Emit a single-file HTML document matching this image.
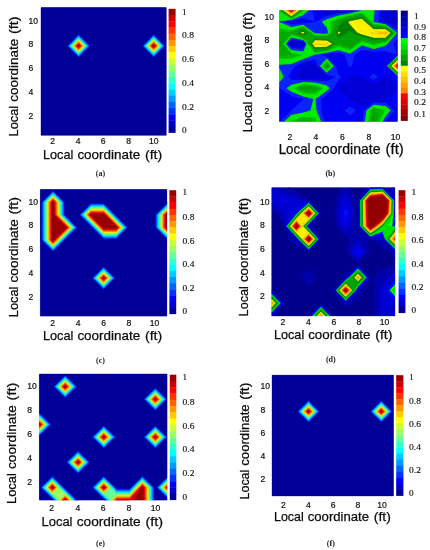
<!DOCTYPE html>
<html><head><meta charset="utf-8"><title>Figure</title>
<style>
html,body{margin:0;padding:0;background:#fff;}
body{width:430px;height:550px;overflow:hidden;position:relative;}
svg{position:absolute;left:0;top:0;display:block;}
.tk{font-family:"Liberation Sans",Arial,sans-serif;font-size:8.6px;fill:#111;stroke:#111;stroke-width:0.2px;}
.cb{font-family:"Liberation Serif","Times New Roman",serif;font-size:9.1px;fill:#111;stroke:#111;stroke-width:0.15px;}
.ax{font-family:"Liberation Sans",Arial,sans-serif;font-size:13px;fill:#0c0c0c;stroke:#0c0c0c;stroke-width:0.25px;}
.cap{font-family:"Liberation Serif","Times New Roman",serif;font-size:8px;font-weight:bold;fill:#222;}
</style></head><body>
<svg width="430" height="550" viewBox="0 0 430 550">
<g>
<rect x="41.0" y="7.6" width="125.2" height="127.6" fill="#000099"/>
<path fill="#000099" stroke="#000099" stroke-width="0.4" d="M41.0 135.2L53.5 135.2L66.0 135.2L78.6 135.2L91.1 135.2L103.6 135.2L116.1 135.2L128.6 135.2L141.2 135.2L153.7 135.2L166.2 135.2L166.2 122.4L166.2 109.7L166.2 96.9L166.2 84.2L166.2 71.4L166.2 58.6L166.2 45.9L166.2 33.1L166.2 20.4L166.2 7.6L153.7 7.6L141.2 7.6L128.6 7.6L116.1 7.6L103.6 7.6L91.1 7.6L78.6 7.6L66.0 7.6L53.5 7.6L41.0 7.6L41.0 20.4L41.0 33.1L41.0 45.9L41.0 58.6L41.0 71.4L41.0 84.2L41.0 96.9L41.0 109.7L41.0 122.4ZM78.6 58.2L66.5 45.9L78.6 33.6L90.6 45.9ZM153.7 58.2L141.6 45.9L153.7 33.6L165.7 45.9Z"/>
<path fill="#000099" stroke="#000099" stroke-width="0.4" d="M66.5 45.9L78.6 58.2L90.6 45.9L78.6 33.6ZM78.6 57.5L67.1 45.9L78.6 34.2L90.0 45.9ZM141.6 45.9L153.7 58.2L165.7 45.9L153.7 33.6ZM153.7 57.5L142.3 45.9L153.7 34.2L165.1 45.9Z"/>
<path fill="#0000c7" stroke="#0000c7" stroke-width="0.4" d="M67.1 45.9L78.6 57.5L90.0 45.9L78.6 34.2ZM78.6 56.9L67.8 45.9L78.6 34.9L89.4 45.9ZM142.3 45.9L153.7 57.5L165.1 45.9L153.7 34.2ZM153.7 56.9L142.9 45.9L153.7 34.9L164.5 45.9Z"/>
<path fill="#0033ff" stroke="#0033ff" stroke-width="0.4" d="M67.8 45.9L78.6 56.9L89.4 45.9L78.6 34.9ZM78.6 56.2L68.4 45.9L78.6 35.5L88.7 45.9ZM142.9 45.9L153.7 56.9L164.5 45.9L153.7 34.9ZM153.7 56.2L143.5 45.9L153.7 35.5L163.8 45.9Z"/>
<path fill="#0066ff" stroke="#0066ff" stroke-width="0.4" d="M68.4 45.9L78.6 56.2L88.7 45.9L78.6 35.5ZM78.6 55.6L69.0 45.9L78.6 36.2L88.1 45.9ZM143.5 45.9L153.7 56.2L163.8 45.9L153.7 35.5ZM153.7 55.6L144.1 45.9L153.7 36.2L163.2 45.9Z"/>
<path fill="#0099ff" stroke="#0099ff" stroke-width="0.4" d="M69.0 45.9L78.6 55.6L88.1 45.9L78.6 36.2ZM78.6 55.0L69.6 45.9L78.6 36.8L87.5 45.9ZM144.1 45.9L153.7 55.6L163.2 45.9L153.7 36.2ZM153.7 55.0L144.8 45.9L153.7 36.8L162.6 45.9Z"/>
<path fill="#00ccff" stroke="#00ccff" stroke-width="0.4" d="M69.6 45.9L78.6 55.0L87.5 45.9L78.6 36.8ZM78.6 54.3L70.3 45.9L78.6 37.4L86.8 45.9ZM144.8 45.9L153.7 55.0L162.6 45.9L153.7 36.8ZM153.7 54.3L145.4 45.9L153.7 37.4L162.0 45.9Z"/>
<path fill="#00ffff" stroke="#00ffff" stroke-width="0.4" d="M70.3 45.9L78.6 54.3L86.8 45.9L78.6 37.4ZM78.6 53.7L70.9 45.9L78.6 38.1L86.2 45.9ZM145.4 45.9L153.7 54.3L162.0 45.9L153.7 37.4ZM153.7 53.7L146.0 45.9L153.7 38.1L161.3 45.9Z"/>
<path fill="#33ffcc" stroke="#33ffcc" stroke-width="0.4" d="M70.9 45.9L78.6 53.7L86.2 45.9L78.6 38.1ZM78.6 53.1L71.5 45.9L78.6 38.7L85.6 45.9ZM146.0 45.9L153.7 53.7L161.3 45.9L153.7 38.1ZM153.7 53.1L146.6 45.9L153.7 38.7L160.7 45.9Z"/>
<path fill="#66ff99" stroke="#66ff99" stroke-width="0.4" d="M71.5 45.9L78.6 53.1L85.6 45.9L78.6 38.7ZM78.6 52.4L72.1 45.9L78.6 39.3L85.0 45.9ZM146.6 45.9L153.7 53.1L160.7 45.9L153.7 38.7ZM153.7 52.4L147.3 45.9L153.7 39.3L160.1 45.9Z"/>
<path fill="#99ff66" stroke="#99ff66" stroke-width="0.4" d="M72.1 45.9L78.6 52.4L85.0 45.9L78.6 39.3ZM78.6 51.8L72.8 45.9L78.6 40.0L84.3 45.9ZM147.3 45.9L153.7 52.4L160.1 45.9L153.7 39.3ZM153.7 51.8L147.9 45.9L153.7 40.0L159.5 45.9Z"/>
<path fill="#ccff33" stroke="#ccff33" stroke-width="0.4" d="M72.8 45.9L78.6 51.8L84.3 45.9L78.6 40.0ZM78.6 51.1L73.4 45.9L78.6 40.6L83.7 45.9ZM147.9 45.9L153.7 51.8L159.5 45.9L153.7 40.0ZM153.7 51.1L148.5 45.9L153.7 40.6L158.8 45.9Z"/>
<path fill="#ffff00" stroke="#ffff00" stroke-width="0.4" d="M73.4 45.9L78.6 51.1L83.7 45.9L78.6 40.6ZM78.6 50.5L74.0 45.9L78.6 41.3L83.1 45.9ZM148.5 45.9L153.7 51.1L158.8 45.9L153.7 40.6ZM153.7 50.5L149.1 45.9L153.7 41.3L158.2 45.9Z"/>
<path fill="#ffcc00" stroke="#ffcc00" stroke-width="0.4" d="M74.0 45.9L78.6 50.5L83.1 45.9L78.6 41.3ZM78.6 49.9L74.7 45.9L78.6 41.9L82.5 45.9ZM149.1 45.9L153.7 50.5L158.2 45.9L153.7 41.3ZM153.7 49.9L149.8 45.9L153.7 41.9L157.6 45.9Z"/>
<path fill="#ff9900" stroke="#ff9900" stroke-width="0.4" d="M74.7 45.9L78.6 49.9L82.5 45.9L78.6 41.9ZM78.6 49.2L75.3 45.9L78.6 42.5L81.8 45.9ZM149.8 45.9L153.7 49.9L157.6 45.9L153.7 41.9ZM153.7 49.2L150.4 45.9L153.7 42.5L157.0 45.9Z"/>
<path fill="#ff6600" stroke="#ff6600" stroke-width="0.4" d="M75.3 45.9L78.6 49.2L81.8 45.9L78.6 42.5ZM78.6 48.6L75.9 45.9L78.6 43.2L81.2 45.9ZM150.4 45.9L153.7 49.2L157.0 45.9L153.7 42.5ZM153.7 48.6L151.0 45.9L153.7 43.2L156.3 45.9Z"/>
<path fill="#ff3300" stroke="#ff3300" stroke-width="0.4" d="M75.9 45.9L78.6 48.6L81.2 45.9L78.6 43.2ZM78.6 47.9L76.5 45.9L78.6 43.8L80.6 45.9ZM151.0 45.9L153.7 48.6L156.3 45.9L153.7 43.2ZM153.7 47.9L151.7 45.9L153.7 43.8L155.7 45.9Z"/>
<path fill="#ff0000" stroke="#ff0000" stroke-width="0.4" d="M76.5 45.9L78.6 47.9L80.6 45.9L78.6 43.8ZM78.6 47.3L77.2 45.9L78.6 44.5L80.0 45.9ZM151.7 45.9L153.7 47.9L155.7 45.9L153.7 43.8ZM153.7 47.3L152.3 45.9L153.7 44.5L155.1 45.9Z"/>
<path fill="#cc0000" stroke="#cc0000" stroke-width="0.4" d="M77.2 45.9L78.6 47.3L80.0 45.9L78.6 44.5ZM78.6 46.7L77.8 45.9L78.6 45.1L79.3 45.9ZM152.3 45.9L153.7 47.3L155.1 45.9L153.7 44.5ZM153.7 46.7L152.9 45.9L153.7 45.1L154.5 45.9Z"/>
<path fill="#990000" stroke="#990000" stroke-width="0.4" d="M77.8 45.9L78.6 46.7L79.3 45.9L78.6 45.1ZM152.9 45.9L153.7 46.7L154.5 45.9L153.7 45.1Z"/>
</g>
<rect x="168.6" y="8.80" width="7.0" height="6.50" fill="#990000"/>
<rect x="168.6" y="15.01" width="7.0" height="6.50" fill="#cc0000"/>
<rect x="168.6" y="21.21" width="7.0" height="6.50" fill="#ff0000"/>
<rect x="168.6" y="27.42" width="7.0" height="6.50" fill="#ff3300"/>
<rect x="168.6" y="33.62" width="7.0" height="6.50" fill="#ff6600"/>
<rect x="168.6" y="39.83" width="7.0" height="6.50" fill="#ff9900"/>
<rect x="168.6" y="46.03" width="7.0" height="6.50" fill="#ffcc00"/>
<rect x="168.6" y="52.23" width="7.0" height="6.50" fill="#ffff00"/>
<rect x="168.6" y="58.44" width="7.0" height="6.50" fill="#ccff33"/>
<rect x="168.6" y="64.64" width="7.0" height="6.50" fill="#99ff66"/>
<rect x="168.6" y="70.85" width="7.0" height="6.50" fill="#66ff99"/>
<rect x="168.6" y="77.05" width="7.0" height="6.50" fill="#33ffcc"/>
<rect x="168.6" y="83.26" width="7.0" height="6.50" fill="#00ffff"/>
<rect x="168.6" y="89.47" width="7.0" height="6.50" fill="#00ccff"/>
<rect x="168.6" y="95.67" width="7.0" height="6.50" fill="#0099ff"/>
<rect x="168.6" y="101.88" width="7.0" height="6.50" fill="#0066ff"/>
<rect x="168.6" y="108.08" width="7.0" height="6.50" fill="#0033ff"/>
<rect x="168.6" y="114.28" width="7.0" height="6.50" fill="#0000ff"/>
<rect x="168.6" y="120.49" width="7.0" height="6.50" fill="#0000cc"/>
<rect x="168.6" y="126.69" width="7.0" height="6.21" fill="#000099"/>
<g>
<rect x="279.5" y="10.6" width="117.9" height="110.8" fill="#8c0000"/>
<path fill="#b20000" stroke="#b20000" stroke-width="0.4" d="M397.4 66.0L397.4 66.0L397.4 66.0L397.4 66.0ZM291.3 10.6L291.3 10.6L291.3 10.6L291.3 10.6Z"/>
<path fill="#cc0000" stroke="#cc0000" stroke-width="0.4" d="M396.6 66.0L397.4 66.8L397.4 66.0L397.4 66.0L397.4 66.0L397.4 65.2ZM290.3 10.6L291.3 11.3L292.3 10.6L291.3 10.6L291.3 10.6L291.3 10.6Z"/>
<path fill="#e60000" stroke="#e60000" stroke-width="0.4" d="M395.8 66.0L397.4 67.5L397.4 66.8L396.6 66.0L397.4 65.2L397.4 64.4ZM289.2 10.6L291.3 12.1L293.4 10.6L292.3 10.6L291.3 11.3L290.3 10.6Z"/>
<path fill="#ff0000" stroke="#ff0000" stroke-width="0.4" d="M395.0 66.0L397.4 68.3L397.4 67.5L395.8 66.0L397.4 64.4L397.4 63.6ZM288.2 10.6L291.3 12.8L294.4 10.6L293.4 10.6L291.3 12.1L289.2 10.6Z"/>
<path fill="#ff8c00" stroke="#ff8c00" stroke-width="0.4" d="M394.2 66.0L397.4 69.0L397.4 68.3L395.0 66.0L397.4 63.6L397.4 62.8ZM385.6 32.8L385.6 32.8L385.6 32.8L385.6 32.8ZM287.2 10.6L291.3 13.6L295.4 10.6L294.4 10.6L291.3 12.8L288.2 10.6Z"/>
<path fill="#ffb200" stroke="#ffb200" stroke-width="0.4" d="M393.4 66.0L397.4 69.8L397.4 69.0L394.2 66.0L397.4 62.8L397.4 62.0ZM377.2 32.8L385.6 34.0L386.9 32.8L385.6 31.8ZM385.6 32.8L385.6 32.8L385.6 32.8L385.6 32.8ZM286.1 10.6L291.3 14.3L296.5 10.6L295.4 10.6L291.3 13.6L287.2 10.6Z"/>
<path fill="#ffd900" stroke="#ffd900" stroke-width="0.4" d="M392.6 66.0L397.4 70.6L397.4 69.8L393.4 66.0L397.4 62.0L397.4 61.3ZM314.2 43.8L314.9 44.7L326.7 44.6L328.0 43.8L326.7 43.0L314.9 43.0ZM369.4 32.8L373.8 33.9L385.6 35.3L388.2 32.8L385.6 30.8L373.8 31.9ZM385.6 34.0L377.2 32.8L385.6 31.8L386.9 32.8ZM362.0 21.7L362.0 21.7L362.0 21.7L362.0 21.7ZM285.1 10.6L291.3 15.0L297.5 10.6L296.5 10.6L291.3 14.3L286.1 10.6Z"/>
<path fill="#fff200" stroke="#fff200" stroke-width="0.4" d="M391.7 66.0L397.4 71.3L397.4 70.6L392.6 66.0L397.4 61.3L397.4 60.5ZM313.1 43.8L314.9 46.2L326.7 45.8L330.3 43.8L326.7 41.7L314.9 41.6ZM314.9 44.7L314.2 43.8L314.9 43.0L326.7 43.0L328.0 43.8L326.7 44.6ZM303.1 32.8L303.1 32.8L303.1 32.8L303.1 32.8ZM362.0 32.8L362.0 32.8L373.8 35.9L385.6 36.6L389.5 32.8L385.6 29.8L373.8 30.4L363.7 21.7L362.0 20.1L353.6 21.7ZM362.0 21.7L362.0 21.7L362.0 21.7L362.0 21.7ZM373.8 33.9L369.4 32.8L373.8 31.9L385.6 30.8L388.2 32.8L385.6 35.3ZM284.1 10.6L291.3 15.8L298.5 10.6L297.5 10.6L291.3 15.0L285.1 10.6Z"/>
<path fill="#ffff00" stroke="#ffff00" stroke-width="0.4" d="M390.9 66.0L397.4 72.1L397.4 71.3L391.7 66.0L397.4 60.5L397.4 59.7ZM311.9 43.8L314.9 47.6L326.7 47.0L332.6 43.8L326.7 40.3L314.9 40.1ZM314.9 46.2L313.1 43.8L314.9 41.6L326.7 41.7L330.3 43.8L326.7 45.8ZM299.8 32.8L303.1 34.0L305.0 32.8L303.1 31.4ZM303.1 32.8L303.1 32.8L303.1 32.8L303.1 32.8ZM337.7 32.8L338.5 34.2L341.1 32.8L338.4 31.1ZM357.1 32.8L362.0 34.7L373.8 37.9L385.6 37.9L390.8 32.8L385.6 28.9L373.8 29.0L365.4 21.7L362.0 18.4L350.2 20.8L347.7 21.7L350.2 25.0ZM362.0 32.8L362.0 32.8L353.6 21.7L362.0 20.1L363.7 21.7L373.8 30.4L385.6 29.8L389.5 32.8L385.6 36.6L373.8 35.9ZM283.0 10.6L291.3 16.5L299.6 10.6L298.5 10.6L291.3 15.8L284.1 10.6Z"/>
<path fill="#008000" stroke="#008000" stroke-width="0.4" d="M390.1 66.0L397.4 72.8L397.4 72.1L390.9 66.0L397.4 59.7L397.4 58.9ZM310.8 43.8L314.9 49.1L326.7 48.2L334.8 43.8L326.7 39.0L314.9 38.7ZM314.9 47.6L311.9 43.8L314.9 40.1L326.7 40.3L332.6 43.8L326.7 47.0ZM350.2 43.8L350.2 43.8L350.2 43.8L350.2 43.8ZM296.5 32.8L303.1 35.3L306.9 32.8L303.1 30.0ZM303.1 34.0L299.8 32.8L303.1 31.4L305.0 32.8ZM335.7 32.8L338.4 37.9L347.6 32.8L350.2 30.5L352.2 32.8L362.0 36.7L373.8 39.9L385.6 39.2L392.2 32.8L385.6 27.9L373.8 27.5L367.1 21.7L362.0 16.8L350.2 19.2L343.5 21.7L338.5 26.8ZM338.5 34.2L337.7 32.8L338.4 31.1L341.1 32.8ZM362.0 34.7L357.1 32.8L350.2 25.0L347.7 21.7L350.2 20.8L362.0 18.4L365.4 21.7L373.8 29.0L385.6 28.9L390.8 32.8L385.6 37.9L373.8 37.9ZM282.0 10.6L291.3 17.2L300.6 10.6L299.6 10.6L291.3 16.5L283.0 10.6Z"/>
<path fill="#00a100" stroke="#00a100" stroke-width="0.4" d="M303.1 121.4L303.1 121.4L303.1 121.4L303.1 121.4ZM372.3 121.4L373.8 121.4L375.4 121.4L373.8 113.1ZM300.6 88.2L303.1 89.6L314.9 88.2L314.9 88.2L314.9 88.2L303.1 87.1ZM325.5 66.0L326.7 67.2L327.9 66.0L326.7 64.7ZM389.3 66.0L397.4 73.6L397.4 72.8L390.1 66.0L397.4 58.9L397.4 58.1ZM279.5 43.8L279.5 49.4L280.6 43.8L279.5 38.3ZM309.7 43.8L314.9 50.5L326.7 49.4L337.1 43.8L338.5 41.6L342.9 43.8L350.2 46.4L353.5 43.8L362.0 38.7L373.8 41.9L385.6 40.5L393.5 32.8L385.6 26.9L373.8 26.1L368.8 21.7L362.0 15.2L350.2 17.7L339.3 21.7L338.4 22.5L333.7 32.8L326.7 37.6L314.9 37.3ZM314.9 49.1L310.8 43.8L314.9 38.7L326.7 39.0L334.8 43.8L326.7 48.2ZM338.4 37.9L335.7 32.8L338.4 26.8L343.5 21.7L350.2 19.2L362.0 16.8L367.1 21.7L373.8 27.5L385.6 27.9L392.2 32.8L385.6 39.2L373.8 39.9L362.0 36.7L352.2 32.8L350.2 30.5L347.6 32.8ZM350.2 43.8L350.2 43.8L350.2 43.8L350.2 43.8ZM293.3 32.8L303.1 36.5L308.8 32.8L303.1 28.6ZM303.1 35.3L296.5 32.8L303.1 30.0L306.9 32.8ZM280.9 10.6L291.3 18.0L301.6 10.6L300.6 10.6L291.3 17.2L282.0 10.6Z"/>
<path fill="#00ab00" stroke="#00ab00" stroke-width="0.4" d="M297.2 121.4L303.1 121.4L303.1 121.4L303.1 121.4L311.3 121.4L303.1 119.2ZM370.5 121.4L372.3 121.4L373.8 113.1L375.4 121.4L377.2 121.4L378.0 110.3L373.8 109.3L372.5 110.3ZM297.6 88.2L303.1 91.3L314.9 90.9L318.6 88.2L314.9 86.8L303.1 85.8ZM303.1 89.6L300.6 88.2L303.1 87.1L314.9 88.2L314.9 88.2L314.9 88.2ZM324.1 66.0L326.7 68.6L329.4 66.0L326.7 63.2ZM326.7 67.2L325.5 66.0L326.7 64.7L327.9 66.0ZM388.8 66.0L397.4 74.1L397.4 73.6L389.3 66.0L397.4 58.1L397.4 57.5ZM279.5 54.9L279.5 55.3L291.3 55.3L292.5 54.9L291.3 54.7L281.9 43.8L291.3 33.0L303.1 37.4L308.9 43.8L314.9 51.6L326.7 50.2L338.4 44.1L350.2 48.1L355.8 43.8L362.0 40.1L373.8 43.2L385.6 41.4L394.4 32.8L385.6 26.2L373.8 25.0L369.9 21.7L362.0 14.0L350.2 16.6L338.4 20.5L335.5 21.7L332.4 32.8L326.7 36.7L314.9 36.3L310.1 32.8L303.1 27.6L291.3 32.5L279.5 32.3L279.5 32.8L279.5 38.3L280.6 43.8L279.5 49.4ZM303.1 36.5L293.3 32.8L303.1 28.6L308.8 32.8ZM314.9 50.5L309.7 43.8L314.9 37.3L326.7 37.6L333.7 32.8L338.4 22.5L339.3 21.7L350.2 17.7L362.0 15.2L368.8 21.7L373.8 26.1L385.6 26.9L393.5 32.8L385.6 40.5L373.8 41.9L362.0 38.7L353.5 43.8L350.2 46.4L342.9 43.8L338.5 41.6L337.1 43.8L326.7 49.4ZM280.2 10.6L291.3 18.5L302.4 10.6L301.6 10.6L291.3 18.0L280.9 10.6Z"/>
<path fill="#00b800" stroke="#00b800" stroke-width="0.4" d="M290.8 121.4L291.3 121.4L297.2 121.4L303.1 119.2L311.3 121.4L314.9 121.4L316.5 121.4L314.9 117.9L303.1 116.8L291.3 121.0ZM368.4 121.4L370.5 121.4L372.5 110.3L373.8 109.3L378.0 110.3L377.2 121.4L379.2 121.4L384.8 110.3L373.8 107.6L370.3 110.3ZM294.2 88.2L303.1 93.2L314.9 94.1L322.9 88.2L314.9 85.2L303.1 84.4ZM303.1 91.3L297.6 88.2L303.1 85.8L314.9 86.8L318.6 88.2L314.9 90.9ZM322.5 66.0L326.7 70.2L331.1 66.0L326.7 61.5ZM326.7 68.6L324.1 66.0L326.7 63.2L329.4 66.0ZM388.1 66.0L397.4 74.7L397.4 74.1L388.8 66.0L397.4 57.5L397.4 56.9ZM279.5 55.3L279.5 58.8L291.3 58.5L301.9 54.9L291.3 53.0L283.4 43.8L291.3 34.7L303.1 38.4L308.0 43.8L314.9 52.7L326.7 51.2L338.4 46.3L350.2 50.1L358.4 43.8L362.0 41.7L370.1 43.8L373.8 45.2L377.5 43.8L385.6 42.4L395.4 32.8L385.6 25.5L373.8 23.9L371.3 21.7L362.0 12.7L350.2 15.4L338.4 18.7L330.8 21.7L330.8 32.8L326.7 35.6L314.9 35.2L311.6 32.8L303.1 26.5L291.3 30.5L279.5 28.6L279.5 32.3L291.3 32.5L303.1 27.6L310.1 32.8L314.9 36.3L326.7 36.7L332.4 32.8L335.5 21.7L338.4 20.5L350.2 16.6L362.0 14.0L369.9 21.7L373.8 25.0L385.6 26.2L394.4 32.8L385.6 41.4L373.8 43.2L362.0 40.1L355.8 43.8L350.2 48.1L338.4 44.1L326.7 50.2L314.9 51.6L308.9 43.8L303.1 37.4L291.3 33.0L281.9 43.8L291.3 54.7L292.5 54.9L291.3 55.3ZM279.5 10.6L279.5 11.3L291.3 19.1L303.1 10.9L303.4 10.6L303.1 10.6L302.4 10.6L291.3 18.5L280.2 10.6Z"/>
<path fill="#00eb00" stroke="#00eb00" stroke-width="0.4" d="M284.0 121.4L290.8 121.4L291.3 121.0L303.1 116.8L314.9 117.9L316.5 121.4L321.4 121.4L316.8 110.3L315.9 99.2L326.7 91.3L330.0 88.2L326.7 85.0L314.9 82.2L303.1 81.7L291.3 84.5L286.1 88.2L291.3 91.9L303.1 96.8L312.9 99.2L310.2 110.3L303.1 112.2L291.3 114.6ZM303.1 93.2L294.2 88.2L303.1 84.4L314.9 85.2L322.9 88.2L314.9 94.1ZM364.6 121.4L368.4 121.4L370.3 110.3L373.8 107.6L384.8 110.3L379.2 121.4L383.0 121.4L385.6 116.8L391.1 110.3L385.6 105.8L373.8 104.4L366.3 110.3ZM279.5 77.1L279.5 82.6L284.0 77.1L279.5 67.8ZM319.6 66.0L326.7 73.1L334.2 66.0L326.7 58.3ZM326.7 70.2L322.5 66.0L326.7 61.5L331.1 66.0ZM386.9 66.0L397.4 75.9L397.4 74.7L388.1 66.0L397.4 56.9L397.4 55.7ZM279.5 58.8L279.5 65.1L291.3 64.4L303.1 59.5L314.9 54.9L314.9 54.9L326.7 53.0L338.4 50.5L350.2 53.9L362.0 45.7L373.8 49.4L385.6 46.1L388.0 43.8L397.4 32.8L397.4 32.8L397.4 32.8L385.6 24.0L373.8 21.7L374.9 10.6L373.8 10.6L362.0 10.6L360.7 10.6L350.2 13.1L338.4 15.2L326.7 19.1L321.4 21.7L326.7 28.0L327.8 32.8L326.7 33.6L314.9 33.0L314.5 32.8L303.1 24.4L291.3 26.7L279.5 21.7L291.3 20.2L303.1 15.5L309.0 10.6L303.4 10.6L303.1 10.9L291.3 19.1L279.5 11.3L279.5 21.7L279.5 28.6L291.3 30.5L303.1 26.5L311.6 32.8L314.9 35.2L326.7 35.6L330.8 32.8L330.8 21.7L338.4 18.7L350.2 15.4L362.0 12.7L371.3 21.7L373.8 23.9L385.6 25.5L395.4 32.8L385.6 42.4L377.5 43.8L373.8 45.2L370.1 43.8L362.0 41.7L358.4 43.8L350.2 50.1L338.4 46.3L326.7 51.2L314.9 52.7L308.0 43.8L303.1 38.4L291.3 34.7L283.4 43.8L291.3 53.0L301.9 54.9L291.3 58.5ZM291.3 49.8L286.1 43.8L291.3 37.9L303.1 40.3L306.3 43.8L303.1 51.2Z"/>
<path fill="#0a24ff" stroke="#0a24ff" stroke-width="0.4" d="M279.5 121.4L284.0 121.4L291.3 114.6L303.1 112.2L310.2 110.3L312.9 99.2L303.1 96.8L291.3 91.9L286.1 88.2L291.3 84.5L303.1 81.7L314.9 82.2L326.7 85.0L330.0 88.2L326.7 91.3L315.9 99.2L316.8 110.3L321.4 121.4L324.7 121.4L321.7 110.3L321.3 99.2L326.7 95.3L334.2 88.2L338.4 80.2L341.8 77.1L338.4 73.9L336.3 66.0L326.7 56.2L322.2 54.9L326.7 54.2L338.4 53.3L344.3 54.9L348.3 66.0L350.2 67.8L352.2 66.0L354.7 54.9L362.0 50.3L373.8 52.1L385.6 51.6L397.4 54.9L386.1 66.0L397.4 76.6L397.4 75.9L386.9 66.0L397.4 55.7L397.4 54.9L397.4 54.9L393.9 43.8L397.4 39.7L397.4 32.8L388.0 43.8L385.6 46.1L373.8 49.4L362.0 45.7L350.2 53.9L338.4 50.5L326.7 53.0L314.9 54.9L314.9 54.9L303.1 59.5L291.3 64.4L279.5 65.1L279.5 66.0L279.5 67.8L284.0 77.1L279.5 82.6L279.5 88.2L279.5 88.2L291.3 96.5L303.1 99.2L291.3 110.3L291.3 110.3L279.5 121.4ZM291.3 79.8L288.6 77.1L291.3 71.5L295.7 66.0L303.1 62.7L314.9 59.5L317.6 66.0L326.7 75.1L335.1 77.1L326.7 81.0L314.9 80.2L303.1 79.9ZM326.7 73.1L319.6 66.0L326.7 58.3L334.2 66.0ZM344.3 110.3L350.2 115.9L356.1 110.3L350.2 106.2ZM362.0 121.4L362.0 121.4L364.6 121.4L366.3 110.3L373.8 104.4L385.6 105.8L391.1 110.3L385.6 116.8L383.0 121.4L385.6 121.4L385.6 121.4L395.0 110.3L385.6 102.5L373.8 102.2L363.6 110.3L362.0 121.4ZM369.4 77.1L373.8 80.1L378.2 77.1L373.8 72.9ZM286.1 43.8L291.3 49.8L303.1 51.2L306.3 43.8L303.1 40.3L291.3 37.9ZM291.3 47.7L288.0 43.8L291.3 40.0L303.1 41.6L305.1 43.8L303.1 48.6ZM314.5 32.8L314.9 33.0L326.7 33.6L327.8 32.8L326.7 28.0L321.4 21.7L326.7 19.1L338.4 15.2L350.2 13.1L360.7 10.6L354.2 10.6L350.2 11.5L338.4 12.9L326.7 15.8L314.9 21.7L312.7 10.6L309.0 10.6L303.1 15.5L291.3 20.2L279.5 21.7L291.3 26.7L303.1 24.4ZM291.3 24.2L285.4 21.7L291.3 20.9L303.1 18.6L314.9 21.7L303.1 23.1ZM373.8 21.7L385.6 24.0L397.4 32.8L397.4 29.1L385.6 23.0L378.7 21.7L380.3 10.6L374.9 10.6Z"/>
<path fill="#0000f2" stroke="#0000f2" stroke-width="0.4" d="M279.5 110.3L279.5 121.4L291.3 110.3L291.3 110.3L303.1 99.2L291.3 96.5L279.5 88.2L279.5 99.2ZM324.7 121.4L326.7 121.4L338.4 121.4L350.2 121.4L362.0 121.4L362.0 121.4L363.6 110.3L373.8 102.2L385.6 102.5L395.0 110.3L385.6 121.4L397.4 121.4L397.4 110.3L397.4 99.2L397.4 88.2L397.4 77.1L397.4 76.6L386.1 66.0L397.4 54.9L385.6 51.6L373.8 52.1L362.0 50.3L354.7 54.9L352.2 66.0L350.2 67.8L348.3 66.0L344.3 54.9L338.4 53.3L326.7 54.2L322.2 54.9L326.7 56.2L336.3 66.0L338.4 73.9L341.8 77.1L338.4 80.2L334.2 88.2L326.7 95.3L321.3 99.2L321.7 110.3ZM350.2 115.9L344.3 110.3L350.2 106.2L356.1 110.3ZM362.0 105.9L350.2 99.2L350.2 99.2L338.5 88.2L350.2 77.1L362.0 77.1L373.8 85.1L385.6 77.1L397.4 88.2L385.6 99.2L385.6 99.2L373.8 100.1ZM373.8 80.1L369.4 77.1L373.8 72.9L378.2 77.1ZM288.6 77.1L291.3 79.8L303.1 79.9L314.9 80.2L326.7 81.0L335.1 77.1L326.7 75.1L317.6 66.0L314.9 59.5L303.1 62.7L295.7 66.0L291.3 71.5ZM303.1 78.2L296.0 77.1L303.1 66.0L303.1 66.0L314.9 64.2L315.7 66.0L326.7 77.1L314.9 78.3ZM288.0 43.8L291.3 47.7L303.1 48.6L305.1 43.8L303.1 41.6L291.3 40.0ZM291.3 45.5L289.8 43.8L291.3 42.1L303.1 42.8L304.0 43.8L303.1 46.0ZM393.9 43.8L397.4 54.9L397.4 43.8L397.4 39.7ZM285.4 21.7L291.3 24.2L303.1 23.1L314.9 21.7L303.1 18.6L291.3 20.9ZM378.7 21.7L385.6 23.0L397.4 29.1L397.4 25.4L385.6 22.1L383.6 21.7L385.6 10.6L385.6 10.6L385.6 10.6L380.3 10.6ZM312.7 10.6L314.9 21.7L326.7 15.8L338.4 12.9L350.2 11.5L354.2 10.6L350.2 10.6L338.4 10.6L338.4 10.6L326.7 12.6L319.6 10.6L314.9 10.6Z"/>
<path fill="#0000d6" stroke="#0000d6" stroke-width="0.4" d="M350.2 99.2L362.0 105.9L373.8 100.1L385.6 99.2L385.6 99.2L397.4 88.2L385.6 77.1L373.8 85.1L362.0 77.1L350.2 77.1L338.5 88.2L350.2 99.2ZM296.0 77.1L303.1 78.2L314.9 78.3L326.7 77.1L315.7 66.0L314.9 64.2L303.1 66.0L303.1 66.0ZM289.8 43.8L291.3 45.5L303.1 46.0L304.0 43.8L303.1 42.8L291.3 42.1ZM383.6 21.7L385.6 22.1L397.4 25.4L397.4 21.7L397.4 21.7L395.4 10.6L385.6 10.6L385.6 10.6ZM319.6 10.6L326.7 12.6L338.4 10.6L326.7 10.6Z"/>
<path fill="#0000bd" stroke="#0000bd" stroke-width="0.4" d="M395.4 10.6L397.4 21.7L397.4 10.6Z"/>
</g>
<rect x="400.8" y="10.60" width="7.0" height="5.82" fill="#00008c"/>
<rect x="400.8" y="16.12" width="7.0" height="5.82" fill="#0000a8"/>
<rect x="400.8" y="21.63" width="7.0" height="5.82" fill="#0000c7"/>
<rect x="400.8" y="27.15" width="7.0" height="5.82" fill="#0000e6"/>
<rect x="400.8" y="32.66" width="7.0" height="5.82" fill="#0000ff"/>
<rect x="400.8" y="38.18" width="7.0" height="5.82" fill="#00ff00"/>
<rect x="400.8" y="43.69" width="7.0" height="5.82" fill="#00e000"/>
<rect x="400.8" y="49.21" width="7.0" height="5.82" fill="#00c200"/>
<rect x="400.8" y="54.72" width="7.0" height="5.82" fill="#00a300"/>
<rect x="400.8" y="60.24" width="7.0" height="5.82" fill="#008500"/>
<rect x="400.8" y="65.75" width="7.0" height="5.82" fill="#ffff00"/>
<rect x="400.8" y="71.27" width="7.0" height="5.82" fill="#ffe000"/>
<rect x="400.8" y="76.78" width="7.0" height="5.82" fill="#ffc200"/>
<rect x="400.8" y="82.30" width="7.0" height="5.82" fill="#ffa300"/>
<rect x="400.8" y="87.81" width="7.0" height="5.82" fill="#ff8500"/>
<rect x="400.8" y="93.33" width="7.0" height="5.82" fill="#ff0000"/>
<rect x="400.8" y="98.84" width="7.0" height="5.82" fill="#e00000"/>
<rect x="400.8" y="104.36" width="7.0" height="5.82" fill="#c20000"/>
<rect x="400.8" y="109.87" width="7.0" height="5.82" fill="#a30000"/>
<rect x="400.8" y="115.39" width="7.0" height="5.52" fill="#850000"/>
<g>
<rect x="40.4" y="189.5" width="126.4" height="126.6" fill="#000099"/>
<path fill="#000099" stroke="#000099" stroke-width="0.4" d="M40.4 316.1L53.0 316.1L65.7 316.1L78.3 316.1L91.0 316.1L103.6 316.1L116.2 316.1L128.9 316.1L141.5 316.1L154.2 316.1L166.8 316.1L166.8 303.4L166.8 290.8L166.8 278.1L166.8 265.5L166.8 252.8L166.8 240.1L166.8 239.7L154.6 227.5L154.6 214.8L166.8 202.6L166.8 202.2L166.8 189.5L154.2 189.5L141.5 189.5L128.9 189.5L116.2 189.5L103.6 189.5L91.0 189.5L78.3 189.5L65.7 189.5L53.0 189.5L40.4 189.5L40.4 202.2L40.4 214.8L40.4 227.5L40.4 240.1L40.4 252.8L40.4 265.5L40.4 278.1L40.4 290.8L40.4 303.4ZM53.0 252.3L40.9 240.1L40.9 227.5L40.9 214.8L40.9 202.2L53.0 190.0L65.2 202.2L65.2 214.8L65.7 215.3L77.8 227.5L65.7 239.7L65.2 240.1ZM103.6 290.3L91.4 278.1L103.6 265.9L115.8 278.1ZM103.6 239.7L91.4 227.5L91.0 227.0L78.8 214.8L91.0 202.6L103.6 202.6L115.8 214.8L116.2 215.3L128.4 227.5L116.2 239.7Z"/>
<path fill="#000099" stroke="#000099" stroke-width="0.4" d="M91.4 278.1L103.6 290.3L115.8 278.1L103.6 265.9ZM103.6 289.7L92.1 278.1L103.6 266.6L115.1 278.1ZM40.9 240.1L53.0 252.3L65.2 240.1L65.7 239.7L77.8 227.5L65.7 215.3L65.2 214.8L65.2 202.2L53.0 190.0L40.9 202.2L40.9 214.8L40.9 227.5ZM53.0 251.7L41.5 240.1L41.5 227.5L41.5 214.8L41.5 202.2L53.0 190.6L64.6 202.2L64.6 214.8L65.7 215.9L77.2 227.5L65.7 239.0L64.6 240.1ZM91.4 227.5L103.6 239.7L116.2 239.7L128.4 227.5L116.2 215.3L115.8 214.8L103.6 202.6L91.0 202.6L78.8 214.8L91.0 227.0ZM103.6 239.0L92.1 227.5L91.0 226.4L79.4 214.8L91.0 203.3L103.6 203.3L115.1 214.8L116.2 215.9L127.8 227.5L116.2 239.0ZM154.6 227.5L166.8 239.7L166.8 239.0L155.3 227.5L155.3 214.8L166.8 203.3L166.8 202.6L154.6 214.8Z"/>
<path fill="#0000c7" stroke="#0000c7" stroke-width="0.4" d="M92.1 278.1L103.6 289.7L115.1 278.1L103.6 266.6ZM103.6 289.0L92.7 278.1L103.6 267.2L114.5 278.1ZM41.5 240.1L53.0 251.7L64.6 240.1L65.7 239.0L77.2 227.5L65.7 215.9L64.6 214.8L64.6 202.2L53.0 190.6L41.5 202.2L41.5 214.8L41.5 227.5ZM53.0 251.1L42.1 240.1L42.1 227.5L42.1 214.8L42.1 202.2L53.0 191.2L63.9 202.2L63.9 214.8L65.7 216.6L76.6 227.5L65.7 238.4L63.9 240.1ZM92.1 227.5L103.6 239.0L116.2 239.0L127.8 227.5L116.2 215.9L115.1 214.8L103.6 203.3L91.0 203.3L79.4 214.8L91.0 226.4ZM103.6 238.4L92.7 227.5L91.0 225.7L80.1 214.8L91.0 203.9L103.6 203.9L114.5 214.8L116.2 216.6L127.1 227.5L116.2 238.4ZM155.3 227.5L166.8 239.0L166.8 238.4L155.9 227.5L155.9 214.8L166.8 203.9L166.8 203.3L155.3 214.8Z"/>
<path fill="#0033ff" stroke="#0033ff" stroke-width="0.4" d="M92.7 278.1L103.6 289.0L114.5 278.1L103.6 267.2ZM103.6 288.4L93.3 278.1L103.6 267.8L113.9 278.1ZM42.1 240.1L53.0 251.1L63.9 240.1L65.7 238.4L76.6 227.5L65.7 216.6L63.9 214.8L63.9 202.2L53.0 191.2L42.1 202.2L42.1 214.8L42.1 227.5ZM53.0 250.4L42.8 240.1L42.8 227.5L42.8 214.8L42.8 202.2L53.0 191.9L63.3 202.2L63.3 214.8L65.7 217.2L75.9 227.5L65.7 237.8L63.3 240.1ZM92.7 227.5L103.6 238.4L116.2 238.4L127.1 227.5L116.2 216.6L114.5 214.8L103.6 203.9L91.0 203.9L80.1 214.8L91.0 225.7ZM103.6 237.8L93.3 227.5L91.0 225.1L80.7 214.8L91.0 204.5L103.6 204.5L113.9 214.8L116.2 217.2L126.5 227.5L116.2 237.8ZM155.9 227.5L166.8 238.4L166.8 237.8L156.5 227.5L156.5 214.8L166.8 204.5L166.8 203.9L155.9 214.8Z"/>
<path fill="#0066ff" stroke="#0066ff" stroke-width="0.4" d="M93.3 278.1L103.6 288.4L113.9 278.1L103.6 267.8ZM103.6 287.8L94.0 278.1L103.6 268.5L113.2 278.1ZM42.8 240.1L53.0 250.4L63.3 240.1L65.7 237.8L75.9 227.5L65.7 217.2L63.3 214.8L63.3 202.2L53.0 191.9L42.8 202.2L42.8 214.8L42.8 227.5ZM53.0 249.8L43.4 240.1L43.4 227.5L43.4 214.8L43.4 202.2L53.0 192.5L62.7 202.2L62.7 214.8L65.7 217.8L75.3 227.5L65.7 237.1L62.7 240.1ZM93.3 227.5L103.6 237.8L116.2 237.8L126.5 227.5L116.2 217.2L113.9 214.8L103.6 204.5L91.0 204.5L80.7 214.8L91.0 225.1ZM103.6 237.1L94.0 227.5L91.0 224.5L81.3 214.8L91.0 205.2L103.6 205.2L113.2 214.8L116.2 217.8L125.9 227.5L116.2 237.1ZM156.5 227.5L166.8 237.8L166.8 237.1L157.2 227.5L157.2 214.8L166.8 205.2L166.8 204.5L156.5 214.8Z"/>
<path fill="#0099ff" stroke="#0099ff" stroke-width="0.4" d="M94.0 278.1L103.6 287.8L113.2 278.1L103.6 268.5ZM103.6 287.1L94.6 278.1L103.6 269.1L112.6 278.1ZM43.4 240.1L53.0 249.8L62.7 240.1L65.7 237.1L75.3 227.5L65.7 217.8L62.7 214.8L62.7 202.2L53.0 192.5L43.4 202.2L43.4 214.8L43.4 227.5ZM53.0 249.2L44.0 240.1L44.0 227.5L44.0 214.8L44.0 202.2L53.0 193.1L62.0 202.2L62.0 214.8L65.7 218.5L74.7 227.5L65.7 236.5L62.0 240.1ZM94.0 227.5L103.6 237.1L116.2 237.1L125.9 227.5L116.2 217.8L113.2 214.8L103.6 205.2L91.0 205.2L81.3 214.8L91.0 224.5ZM103.6 236.5L94.6 227.5L91.0 223.8L82.0 214.8L91.0 205.8L103.6 205.8L112.6 214.8L116.2 218.5L125.2 227.5L116.2 236.5ZM157.2 227.5L166.8 237.1L166.8 236.5L157.8 227.5L157.8 214.8L166.8 205.8L166.8 205.2L157.2 214.8Z"/>
<path fill="#00ccff" stroke="#00ccff" stroke-width="0.4" d="M94.6 278.1L103.6 287.1L112.6 278.1L103.6 269.1ZM103.6 286.5L95.2 278.1L103.6 269.7L112.0 278.1ZM44.0 240.1L53.0 249.2L62.0 240.1L65.7 236.5L74.7 227.5L65.7 218.5L62.0 214.8L62.0 202.2L53.0 193.1L44.0 202.2L44.0 214.8L44.0 227.5ZM53.0 248.5L44.7 240.1L44.7 227.5L44.7 214.8L44.7 202.2L53.0 193.8L61.4 202.2L61.4 214.8L65.7 219.1L74.0 227.5L65.7 235.9L61.4 240.1ZM94.6 227.5L103.6 236.5L116.2 236.5L125.2 227.5L116.2 218.5L112.6 214.8L103.6 205.8L91.0 205.8L82.0 214.8L91.0 223.8ZM103.6 235.9L95.2 227.5L91.0 223.2L82.6 214.8L91.0 206.4L103.6 206.4L112.0 214.8L116.2 219.1L124.6 227.5L116.2 235.9ZM157.8 227.5L166.8 236.5L166.8 235.9L158.4 227.5L158.4 214.8L166.8 206.4L166.8 205.8L157.8 214.8Z"/>
<path fill="#00ffff" stroke="#00ffff" stroke-width="0.4" d="M95.2 278.1L103.6 286.5L112.0 278.1L103.6 269.7ZM103.6 285.9L95.9 278.1L103.6 270.4L111.3 278.1ZM44.7 240.1L53.0 248.5L61.4 240.1L65.7 235.9L74.0 227.5L65.7 219.1L61.4 214.8L61.4 202.2L53.0 193.8L44.7 202.2L44.7 214.8L44.7 227.5ZM53.0 247.9L45.3 240.1L45.3 227.5L45.3 214.8L45.3 202.2L53.0 194.4L60.8 202.2L60.8 214.8L65.7 219.7L73.4 227.5L65.7 235.2L60.8 240.1ZM95.2 227.5L103.6 235.9L116.2 235.9L124.6 227.5L116.2 219.1L112.0 214.8L103.6 206.4L91.0 206.4L82.6 214.8L91.0 223.2ZM103.6 235.2L95.9 227.5L91.0 222.6L83.2 214.8L91.0 207.1L103.6 207.1L111.3 214.8L116.2 219.7L124.0 227.5L116.2 235.2ZM158.4 227.5L166.8 235.9L166.8 235.2L159.1 227.5L159.1 214.8L166.8 207.1L166.8 206.4L158.4 214.8Z"/>
<path fill="#33ffcc" stroke="#33ffcc" stroke-width="0.4" d="M95.9 278.1L103.6 285.9L111.3 278.1L103.6 270.4ZM103.6 285.2L96.5 278.1L103.6 271.0L110.7 278.1ZM45.3 240.1L53.0 247.9L60.8 240.1L65.7 235.2L73.4 227.5L65.7 219.7L60.8 214.8L60.8 202.2L53.0 194.4L45.3 202.2L45.3 214.8L45.3 227.5ZM53.0 247.3L45.9 240.1L45.9 227.5L45.9 214.8L45.9 202.2L53.0 195.0L60.1 202.2L60.1 214.8L65.7 220.4L72.8 227.5L65.7 234.6L60.1 240.1ZM95.9 227.5L103.6 235.2L116.2 235.2L124.0 227.5L116.2 219.7L111.3 214.8L103.6 207.1L91.0 207.1L83.2 214.8L91.0 222.6ZM103.6 234.6L96.5 227.5L91.0 221.9L83.9 214.8L91.0 207.7L103.6 207.7L110.7 214.8L116.2 220.4L123.3 227.5L116.2 234.6ZM159.1 227.5L166.8 235.2L166.8 234.6L159.7 227.5L159.7 214.8L166.8 207.7L166.8 207.1L159.1 214.8Z"/>
<path fill="#66ff99" stroke="#66ff99" stroke-width="0.4" d="M96.5 278.1L103.6 285.2L110.7 278.1L103.6 271.0ZM103.6 284.6L97.1 278.1L103.6 271.6L110.1 278.1ZM45.9 240.1L53.0 247.3L60.1 240.1L65.7 234.6L72.8 227.5L65.7 220.4L60.1 214.8L60.1 202.2L53.0 195.0L45.9 202.2L45.9 214.8L45.9 227.5ZM53.0 246.6L46.6 240.1L46.6 227.5L46.6 214.8L46.6 202.2L53.0 195.7L59.5 202.2L59.5 214.8L65.7 221.0L72.2 227.5L65.7 234.0L59.5 240.1ZM96.5 227.5L103.6 234.6L116.2 234.6L123.3 227.5L116.2 220.4L110.7 214.8L103.6 207.7L91.0 207.7L83.9 214.8L91.0 221.9ZM103.6 234.0L97.1 227.5L91.0 221.3L84.5 214.8L91.0 208.3L103.6 208.3L110.1 214.8L116.2 221.0L122.7 227.5L116.2 234.0ZM159.7 227.5L166.8 234.6L166.8 234.0L160.3 227.5L160.3 214.8L166.8 208.3L166.8 207.7L159.7 214.8Z"/>
<path fill="#99ff66" stroke="#99ff66" stroke-width="0.4" d="M97.1 278.1L103.6 284.6L110.1 278.1L103.6 271.6ZM103.6 284.0L97.8 278.1L103.6 272.3L109.4 278.1ZM46.6 240.1L53.0 246.6L59.5 240.1L65.7 234.0L72.2 227.5L65.7 221.0L59.5 214.8L59.5 202.2L53.0 195.7L46.6 202.2L46.6 214.8L46.6 227.5ZM53.0 246.0L47.2 240.1L47.2 227.5L47.2 214.8L47.2 202.2L53.0 196.3L58.9 202.2L58.9 214.8L65.7 221.6L71.5 227.5L65.7 233.3L58.9 240.1ZM97.1 227.5L103.6 234.0L116.2 234.0L122.7 227.5L116.2 221.0L110.1 214.8L103.6 208.3L91.0 208.3L84.5 214.8L91.0 221.3ZM103.6 233.3L97.8 227.5L91.0 220.7L85.1 214.8L91.0 209.0L103.6 209.0L109.4 214.8L116.2 221.6L122.1 227.5L116.2 233.3ZM160.3 227.5L166.8 234.0L166.8 233.3L161.0 227.5L161.0 214.8L166.8 209.0L166.8 208.3L160.3 214.8Z"/>
<path fill="#ccff33" stroke="#ccff33" stroke-width="0.4" d="M97.8 278.1L103.6 284.0L109.4 278.1L103.6 272.3ZM103.6 283.3L98.4 278.1L103.6 272.9L108.8 278.1ZM47.2 240.1L53.0 246.0L58.9 240.1L65.7 233.3L71.5 227.5L65.7 221.6L58.9 214.8L58.9 202.2L53.0 196.3L47.2 202.2L47.2 214.8L47.2 227.5ZM53.0 245.4L47.8 240.1L47.8 227.5L47.8 214.8L47.8 202.2L53.0 196.9L58.2 202.2L58.2 214.8L65.7 222.3L70.9 227.5L65.7 232.7L58.2 240.1ZM97.8 227.5L103.6 233.3L116.2 233.3L122.1 227.5L116.2 221.6L109.4 214.8L103.6 209.0L91.0 209.0L85.1 214.8L91.0 220.7ZM103.6 232.7L98.4 227.5L91.0 220.0L85.8 214.8L91.0 209.6L103.6 209.6L108.8 214.8L116.2 222.3L121.4 227.5L116.2 232.7ZM161.0 227.5L166.8 233.3L166.8 232.7L161.6 227.5L161.6 214.8L166.8 209.6L166.8 209.0L161.0 214.8Z"/>
<path fill="#ffff00" stroke="#ffff00" stroke-width="0.4" d="M98.4 278.1L103.6 283.3L108.8 278.1L103.6 272.9ZM103.6 282.7L99.0 278.1L103.6 273.5L108.2 278.1ZM47.8 240.1L53.0 245.4L58.2 240.1L65.7 232.7L70.9 227.5L65.7 222.3L58.2 214.8L58.2 202.2L53.0 196.9L47.8 202.2L47.8 214.8L47.8 227.5ZM53.0 244.7L48.5 240.1L48.5 227.5L48.5 214.8L48.5 202.2L53.0 197.6L57.6 202.2L57.6 214.8L65.7 222.9L70.3 227.5L65.7 232.1L57.6 240.1ZM98.4 227.5L103.6 232.7L116.2 232.7L121.4 227.5L116.2 222.3L108.8 214.8L103.6 209.6L91.0 209.6L85.8 214.8L91.0 220.0ZM103.6 232.1L99.0 227.5L91.0 219.4L86.4 214.8L91.0 210.2L103.6 210.2L108.2 214.8L116.2 222.9L120.8 227.5L116.2 232.1ZM161.6 227.5L166.8 232.7L166.8 232.1L162.2 227.5L162.2 214.8L166.8 210.2L166.8 209.6L161.6 214.8Z"/>
<path fill="#ffcc00" stroke="#ffcc00" stroke-width="0.4" d="M99.0 278.1L103.6 282.7L108.2 278.1L103.6 273.5ZM103.6 282.1L99.7 278.1L103.6 274.2L107.5 278.1ZM48.5 240.1L53.0 244.7L57.6 240.1L65.7 232.1L70.3 227.5L65.7 222.9L57.6 214.8L57.6 202.2L53.0 197.6L48.5 202.2L48.5 214.8L48.5 227.5ZM53.0 244.1L49.1 240.1L49.1 227.5L49.1 214.8L49.1 202.2L53.0 198.2L57.0 202.2L57.0 214.8L65.7 223.5L69.6 227.5L65.7 231.4L57.0 240.1ZM99.0 227.5L103.6 232.1L116.2 232.1L120.8 227.5L116.2 222.9L108.2 214.8L103.6 210.2L91.0 210.2L86.4 214.8L91.0 219.4ZM103.6 231.4L99.7 227.5L91.0 218.8L87.0 214.8L91.0 210.9L103.6 210.9L107.5 214.8L116.2 223.5L120.2 227.5L116.2 231.4ZM162.2 227.5L166.8 232.1L166.8 231.4L162.9 227.5L162.9 214.8L166.8 210.9L166.8 210.2L162.2 214.8Z"/>
<path fill="#ff9900" stroke="#ff9900" stroke-width="0.4" d="M99.7 278.1L103.6 282.1L107.5 278.1L103.6 274.2ZM103.6 281.4L100.3 278.1L103.6 274.8L106.9 278.1ZM49.1 240.1L53.0 244.1L57.0 240.1L65.7 231.4L69.6 227.5L65.7 223.5L57.0 214.8L57.0 202.2L53.0 198.2L49.1 202.2L49.1 214.8L49.1 227.5ZM53.0 243.5L49.7 240.1L49.7 227.5L49.7 214.8L49.7 202.2L53.0 198.8L56.4 202.2L56.4 214.8L65.7 224.2L69.0 227.5L65.7 230.8L56.4 240.1ZM99.7 227.5L103.6 231.4L116.2 231.4L120.2 227.5L116.2 223.5L107.5 214.8L103.6 210.9L91.0 210.9L87.0 214.8L91.0 218.8ZM103.6 230.8L100.3 227.5L91.0 218.1L87.6 214.8L91.0 211.5L103.6 211.5L106.9 214.8L116.2 224.2L119.6 227.5L116.2 230.8ZM162.9 227.5L166.8 231.4L166.8 230.8L163.5 227.5L163.5 214.8L166.8 211.5L166.8 210.9L162.9 214.8Z"/>
<path fill="#ff6600" stroke="#ff6600" stroke-width="0.4" d="M100.3 278.1L103.6 281.4L106.9 278.1L103.6 274.8ZM103.6 280.8L100.9 278.1L103.6 275.4L106.3 278.1ZM49.7 240.1L53.0 243.5L56.4 240.1L65.7 230.8L69.0 227.5L65.7 224.2L56.4 214.8L56.4 202.2L53.0 198.8L49.7 202.2L49.7 214.8L49.7 227.5ZM53.0 242.8L50.4 240.1L50.4 227.5L50.4 214.8L50.4 202.2L53.0 199.5L55.7 202.2L55.7 214.8L65.7 224.8L68.4 227.5L65.7 230.2L55.7 240.1ZM100.3 227.5L103.6 230.8L116.2 230.8L119.6 227.5L116.2 224.2L106.9 214.8L103.6 211.5L91.0 211.5L87.6 214.8L91.0 218.1ZM103.6 230.2L100.9 227.5L91.0 217.5L88.3 214.8L91.0 212.1L103.6 212.1L106.3 214.8L116.2 224.8L118.9 227.5L116.2 230.2ZM163.5 227.5L166.8 230.8L166.8 230.2L164.1 227.5L164.1 214.8L166.8 212.1L166.8 211.5L163.5 214.8Z"/>
<path fill="#ff3300" stroke="#ff3300" stroke-width="0.4" d="M100.9 278.1L103.6 280.8L106.3 278.1L103.6 275.4ZM103.6 280.2L101.6 278.1L103.6 276.1L105.6 278.1ZM50.4 240.1L53.0 242.8L55.7 240.1L65.7 230.2L68.4 227.5L65.7 224.8L55.7 214.8L55.7 202.2L53.0 199.5L50.4 202.2L50.4 214.8L50.4 227.5ZM53.0 242.2L51.0 240.1L51.0 227.5L51.0 214.8L51.0 202.2L53.0 200.1L55.1 202.2L55.1 214.8L65.7 225.4L67.7 227.5L65.7 229.5L55.1 240.1ZM100.9 227.5L103.6 230.2L116.2 230.2L118.9 227.5L116.2 224.8L106.3 214.8L103.6 212.1L91.0 212.1L88.3 214.8L91.0 217.5ZM103.6 229.5L101.6 227.5L91.0 216.9L88.9 214.8L91.0 212.8L103.6 212.8L105.6 214.8L116.2 225.4L118.3 227.5L116.2 229.5ZM164.1 227.5L166.8 230.2L166.8 229.5L164.8 227.5L164.8 214.8L166.8 212.8L166.8 212.1L164.1 214.8Z"/>
<path fill="#ff0000" stroke="#ff0000" stroke-width="0.4" d="M101.6 278.1L103.6 280.2L105.6 278.1L103.6 276.1ZM103.6 279.5L102.2 278.1L103.6 276.7L105.0 278.1ZM51.0 240.1L53.0 242.2L55.1 240.1L65.7 229.5L67.7 227.5L65.7 225.4L55.1 214.8L55.1 202.2L53.0 200.1L51.0 202.2L51.0 214.8L51.0 227.5ZM53.0 241.6L51.6 240.1L51.6 227.5L51.6 214.8L51.6 202.2L53.0 200.7L54.5 202.2L54.5 214.8L65.7 226.1L67.1 227.5L65.7 228.9L54.5 240.1ZM101.6 227.5L103.6 229.5L116.2 229.5L118.3 227.5L116.2 225.4L105.6 214.8L103.6 212.8L91.0 212.8L88.9 214.8L91.0 216.9ZM103.6 228.9L102.2 227.5L91.0 216.2L89.5 214.8L91.0 213.4L103.6 213.4L105.0 214.8L116.2 226.1L117.7 227.5L116.2 228.9ZM164.8 227.5L166.8 229.5L166.8 228.9L165.4 227.5L165.4 214.8L166.8 213.4L166.8 212.8L164.8 214.8Z"/>
<path fill="#cc0000" stroke="#cc0000" stroke-width="0.4" d="M102.2 278.1L103.6 279.5L105.0 278.1L103.6 276.7ZM103.6 278.9L102.8 278.1L103.6 277.3L104.4 278.1ZM51.6 240.1L53.0 241.6L54.5 240.1L65.7 228.9L67.1 227.5L65.7 226.1L54.5 214.8L54.5 202.2L53.0 200.7L51.6 202.2L51.6 214.8L51.6 227.5ZM53.0 240.9L52.3 240.1L52.3 227.5L52.3 214.8L52.3 202.2L53.0 201.4L53.8 202.2L53.8 214.8L65.7 226.7L66.5 227.5L65.7 228.3L53.8 240.1ZM102.2 227.5L103.6 228.9L116.2 228.9L117.7 227.5L116.2 226.1L105.0 214.8L103.6 213.4L91.0 213.4L89.5 214.8L91.0 216.2ZM103.6 228.3L102.8 227.5L91.0 215.6L90.2 214.8L91.0 214.0L103.6 214.0L104.4 214.8L116.2 226.7L117.0 227.5L116.2 228.3ZM165.4 227.5L166.8 228.9L166.8 228.3L166.0 227.5L166.0 214.8L166.8 214.0L166.8 213.4L165.4 214.8Z"/>
<path fill="#990000" stroke="#990000" stroke-width="0.4" d="M102.8 278.1L103.6 278.9L104.4 278.1L103.6 277.3ZM52.3 240.1L53.0 240.9L53.8 240.1L65.7 228.3L66.5 227.5L65.7 226.7L53.8 214.8L53.8 202.2L53.0 201.4L52.3 202.2L52.3 214.8L52.3 227.5ZM102.8 227.5L103.6 228.3L116.2 228.3L117.0 227.5L116.2 226.7L104.4 214.8L103.6 214.0L91.0 214.0L90.2 214.8L91.0 215.6ZM166.0 227.5L166.8 228.3L166.8 227.5L166.8 214.8L166.8 214.0L166.0 214.8Z"/>
</g>
<rect x="169.4" y="190.20" width="6.8" height="6.50" fill="#990000"/>
<rect x="169.4" y="196.39" width="6.8" height="6.50" fill="#cc0000"/>
<rect x="169.4" y="202.59" width="6.8" height="6.50" fill="#ff0000"/>
<rect x="169.4" y="208.78" width="6.8" height="6.50" fill="#ff3300"/>
<rect x="169.4" y="214.98" width="6.8" height="6.50" fill="#ff6600"/>
<rect x="169.4" y="221.18" width="6.8" height="6.50" fill="#ff9900"/>
<rect x="169.4" y="227.37" width="6.8" height="6.50" fill="#ffcc00"/>
<rect x="169.4" y="233.56" width="6.8" height="6.50" fill="#ffff00"/>
<rect x="169.4" y="239.76" width="6.8" height="6.50" fill="#ccff33"/>
<rect x="169.4" y="245.96" width="6.8" height="6.50" fill="#99ff66"/>
<rect x="169.4" y="252.15" width="6.8" height="6.50" fill="#66ff99"/>
<rect x="169.4" y="258.35" width="6.8" height="6.50" fill="#33ffcc"/>
<rect x="169.4" y="264.54" width="6.8" height="6.50" fill="#00ffff"/>
<rect x="169.4" y="270.74" width="6.8" height="6.50" fill="#00ccff"/>
<rect x="169.4" y="276.93" width="6.8" height="6.50" fill="#0099ff"/>
<rect x="169.4" y="283.12" width="6.8" height="6.50" fill="#0066ff"/>
<rect x="169.4" y="289.32" width="6.8" height="6.50" fill="#0033ff"/>
<rect x="169.4" y="295.52" width="6.8" height="6.50" fill="#0000ff"/>
<rect x="169.4" y="301.71" width="6.8" height="6.50" fill="#0000cc"/>
<rect x="169.4" y="307.91" width="6.8" height="6.20" fill="#000099"/>
<g>
<rect x="271.8" y="187.7" width="123.1" height="128.2" fill="#00008c"/>
<path fill="#00008c" stroke="#00008c" stroke-width="0.4" d="M274.9 315.9L284.1 315.9L296.4 315.9L308.7 315.9L308.9 315.9L321.0 303.5L333.2 315.9L333.4 315.9L345.7 315.9L358.0 315.9L370.3 315.9L374.0 315.9L374.0 303.1L374.0 290.3L373.4 277.4L382.6 269.7L394.9 266.0L394.9 264.6L394.9 258.2L390.8 251.8L382.6 248.1L372.3 239.0L370.3 238.9L367.8 239.0L368.9 251.8L358.0 263.9L347.0 251.8L349.8 239.0L345.7 236.8L336.2 226.2L335.1 213.3L336.2 200.5L340.7 187.7L333.4 187.7L321.0 187.7L308.7 187.7L296.4 187.7L288.2 187.7L296.4 190.5L308.7 200.5L308.7 200.5L321.0 213.3L312.8 226.2L320.8 239.0L308.7 251.7L296.4 247.0L288.7 239.0L284.4 226.2L284.1 222.5L275.3 213.3L271.8 210.8L271.8 213.3L271.8 226.2L271.8 239.0L271.8 251.8L271.8 264.6L271.8 277.4L271.8 290.3L271.8 290.6L283.9 303.1ZM308.7 285.5L301.0 277.4L308.7 269.4L316.4 277.4ZM345.7 307.4L341.6 303.1L333.6 290.3L342.6 277.4L345.7 274.2L358.0 264.8L370.1 277.4L364.1 290.3L358.0 299.9L351.8 303.1ZM355.9 226.2L358.0 230.4L358.2 226.2L358.3 213.3L358.3 200.5L364.1 187.7L358.0 187.7L350.6 187.7L355.1 200.5L356.2 213.3ZM391.8 187.7L394.9 189.3L394.9 187.7Z"/>
<path fill="#0000ad" stroke="#0000ad" stroke-width="0.4" d="M271.8 315.9L274.9 315.9L283.9 303.1L271.8 290.6L271.8 291.6L283.0 303.1L271.8 315.1ZM308.9 315.9L309.8 315.9L321.0 304.4L332.3 315.9L333.2 315.9L321.0 303.5ZM341.6 303.1L345.7 307.4L351.8 303.1L358.0 299.9L364.1 290.3L370.1 277.4L358.0 264.8L345.7 274.2L342.6 277.4L333.6 290.3ZM345.7 302.5L334.3 290.3L345.7 278.0L346.5 277.4L358.0 265.8L369.1 277.4L358.0 289.8L357.7 290.3ZM374.0 315.9L380.1 315.9L380.1 303.1L380.1 290.3L382.6 283.9L387.5 277.4L394.9 273.2L394.9 266.0L382.6 269.7L373.4 277.4L374.0 290.3L374.0 303.1ZM301.0 277.4L308.7 285.5L316.4 277.4L308.7 269.4ZM347.0 251.8L358.0 263.9L368.9 251.8L367.8 239.0L370.3 238.9L372.3 239.0L382.6 248.1L390.8 251.8L394.9 258.2L394.9 251.8L394.9 251.1L382.6 239.0L382.6 239.0L370.3 238.2L358.8 226.2L358.9 213.3L358.8 200.5L370.3 187.9L382.6 187.9L394.9 197.3L394.9 189.3L391.8 187.7L382.6 187.7L370.3 187.7L364.1 187.7L358.3 200.5L358.3 213.3L358.2 226.2L358.0 230.4L355.9 226.2L356.2 213.3L355.1 200.5L350.6 187.7L345.7 187.7L340.7 187.7L336.2 200.5L335.1 213.3L336.2 226.2L345.7 236.8L349.8 239.0ZM358.0 260.1L350.4 251.8L358.0 240.0L365.5 251.8ZM345.7 231.5L340.9 226.2L338.0 213.3L340.9 200.5L345.7 192.5L350.4 200.5L353.3 213.3L350.8 226.2ZM288.7 239.0L296.4 247.0L308.7 251.7L320.8 239.0L312.8 226.2L321.0 213.3L308.7 200.5L308.7 200.5L296.4 190.5L288.2 187.7L284.1 187.7L274.3 187.7L284.1 192.8L296.4 197.7L299.9 200.5L308.7 201.2L320.4 213.3L308.7 225.6L308.2 226.2L308.7 226.7L320.2 239.0L308.7 251.0L296.4 239.0L296.4 239.0L285.0 226.2L284.1 213.3L284.1 213.3L271.8 204.4L271.8 210.8L275.3 213.3L284.1 222.5L284.4 226.2Z"/>
<path fill="#0000d1" stroke="#0000d1" stroke-width="0.4" d="M271.8 314.1L271.8 315.1L283.0 303.1L271.8 291.6L271.8 292.6L282.1 303.1ZM309.8 315.9L310.7 315.9L321.0 305.3L331.4 315.9L332.3 315.9L321.0 304.4ZM380.1 315.9L382.6 315.9L394.9 315.9L394.9 303.1L394.9 301.9L384.3 290.3L394.9 278.7L394.9 277.4L394.9 273.2L387.5 277.4L382.6 283.9L380.1 290.3L380.1 303.1ZM334.3 290.3L345.7 302.5L357.7 290.3L358.0 289.8L369.1 277.4L358.0 265.8L346.5 277.4L345.7 278.0ZM345.7 301.8L335.0 290.3L345.7 278.7L347.4 277.4L358.0 266.8L368.2 277.4L358.0 288.8L357.0 290.3ZM350.4 251.8L358.0 260.1L365.5 251.8L358.0 240.0ZM358.0 256.3L353.9 251.8L358.0 245.4L362.1 251.8ZM296.4 239.0L308.7 251.0L320.2 239.0L308.7 226.7L308.2 226.2L308.7 225.6L320.4 213.3L308.7 201.2L299.9 200.5L296.4 197.7L284.1 192.8L274.3 187.7L271.8 187.7L271.8 200.5L271.8 204.4L284.1 213.3L284.1 213.3L285.0 226.2L296.4 239.0ZM308.7 250.3L297.1 239.0L296.4 238.3L285.6 226.2L291.8 213.3L296.4 206.9L308.7 201.9L319.7 213.3L308.7 224.9L307.6 226.2L308.7 227.4L319.5 239.0ZM284.1 202.7L280.0 200.5L284.1 199.2L287.2 200.5ZM382.6 239.0L394.9 251.1L394.9 250.2L383.5 239.0L382.6 236.4L370.3 237.6L359.4 226.2L359.5 213.3L359.4 200.5L370.3 188.5L382.6 188.4L394.6 200.5L394.6 213.3L394.9 217.2L394.9 213.3L394.9 200.5L394.9 197.3L382.6 187.9L370.3 187.9L358.8 200.5L358.9 213.3L358.8 226.2L370.3 238.2L382.6 239.0ZM340.9 226.2L345.7 231.5L350.8 226.2L353.3 213.3L350.4 200.5L345.7 192.5L340.9 200.5L338.0 213.3ZM345.7 226.2L341.0 213.3L345.7 200.5L350.3 213.3Z"/>
<path fill="#0000ed" stroke="#0000ed" stroke-width="0.4" d="M271.8 313.1L271.8 314.1L282.1 303.1L271.8 292.6L271.8 293.5L281.1 303.1ZM310.7 315.9L311.6 315.9L321.0 306.2L330.5 315.9L331.4 315.9L321.0 305.3ZM335.0 290.3L345.7 301.8L357.0 290.3L358.0 288.8L368.2 277.4L358.0 266.8L347.4 277.4L345.7 278.7ZM345.7 301.1L335.6 290.3L345.7 279.5L348.4 277.4L358.0 267.8L367.2 277.4L358.0 287.7L356.3 290.3ZM384.3 290.3L394.9 301.9L394.9 298.8L387.1 290.3L394.9 281.7L394.9 278.7ZM353.9 251.8L358.0 256.3L362.1 251.8L358.0 245.4ZM358.0 252.6L357.3 251.8L358.0 250.7L358.7 251.8ZM297.1 239.0L308.7 250.3L319.5 239.0L308.7 227.4L307.6 226.2L308.7 224.9L319.7 213.3L308.7 201.9L296.4 206.9L291.8 213.3L285.6 226.2L296.4 238.3ZM308.7 249.7L297.8 239.0L296.4 237.6L286.3 226.2L296.4 213.7L296.7 213.3L308.7 202.5L319.1 213.3L308.7 224.3L306.9 226.2L308.7 228.1L318.9 239.0ZM383.5 239.0L394.9 250.2L394.9 249.4L384.3 239.0L382.6 233.9L370.3 236.9L360.0 226.2L360.0 213.3L359.9 200.5L370.3 189.1L382.6 188.9L394.1 200.5L394.0 213.3L394.9 223.6L394.9 217.2L394.6 213.3L394.6 200.5L382.6 188.4L370.3 188.5L359.4 200.5L359.5 213.3L359.4 226.2L370.3 237.6L382.6 236.4ZM341.0 213.3L345.7 226.2L350.3 213.3L345.7 200.5ZM345.7 218.1L343.9 213.3L345.7 208.5L347.4 213.3ZM280.0 200.5L284.1 202.7L287.2 200.5L284.1 199.2Z"/>
<path fill="#000fff" stroke="#000fff" stroke-width="0.4" d="M271.8 312.1L271.8 313.1L281.1 303.1L271.8 293.5L271.8 294.5L280.2 303.1ZM311.6 315.9L312.5 315.9L321.0 307.2L329.5 315.9L330.5 315.9L321.0 306.2ZM335.6 290.3L345.7 301.1L356.3 290.3L358.0 287.7L367.2 277.4L358.0 267.8L348.4 277.4L345.7 279.5ZM345.7 300.3L336.3 290.3L345.7 280.2L349.4 277.4L358.0 268.8L366.2 277.4L358.0 286.6L355.6 290.3ZM387.1 290.3L394.9 298.8L394.9 295.8L389.9 290.3L394.9 284.8L394.9 281.7ZM357.3 251.8L358.0 252.6L358.7 251.8L358.0 250.7ZM297.8 239.0L308.7 249.7L318.9 239.0L308.7 228.1L306.9 226.2L308.7 224.3L319.1 213.3L308.7 202.5L296.7 213.3L296.4 213.7L286.3 226.2L296.4 237.6ZM308.7 249.0L298.5 239.0L296.4 236.8L286.9 226.2L296.4 214.4L297.5 213.3L308.7 203.2L318.4 213.3L308.7 223.6L306.2 226.2L308.7 228.8L318.2 239.0ZM384.3 239.0L394.9 249.4L394.9 248.5L385.2 239.0L382.6 231.3L370.3 236.3L360.6 226.2L360.6 213.3L360.5 200.5L370.3 189.7L382.6 189.4L393.6 200.5L393.5 213.3L392.1 226.2L394.9 226.8L394.9 226.2L394.9 223.6L394.0 213.3L394.1 200.5L382.6 188.9L370.3 189.1L359.9 200.5L360.0 213.3L360.0 226.2L370.3 236.9L382.6 233.9ZM343.9 213.3L345.7 218.1L347.4 213.3L345.7 208.5Z"/>
<path fill="#00ff00" stroke="#00ff00" stroke-width="0.4" d="M271.8 311.1L271.8 312.1L280.2 303.1L271.8 294.5L271.8 295.4L279.3 303.1ZM312.5 315.9L313.4 315.9L321.0 308.1L328.6 315.9L329.5 315.9L321.0 307.2ZM336.3 290.3L345.7 300.3L355.6 290.3L358.0 286.6L366.2 277.4L358.0 268.8L349.4 277.4L345.7 280.2ZM345.7 299.6L337.0 290.3L345.7 280.9L350.4 277.4L358.0 269.8L365.3 277.4L358.0 285.6L354.9 290.3ZM389.9 290.3L394.9 295.8L394.9 292.7L392.7 290.3L394.9 287.8L394.9 284.8ZM298.5 239.0L308.7 249.0L318.2 239.0L308.7 228.8L306.2 226.2L308.7 223.6L318.4 213.3L308.7 203.2L297.5 213.3L296.4 214.4L286.9 226.2L296.4 236.8ZM308.7 248.3L299.2 239.0L296.4 236.1L287.5 226.2L296.4 215.2L298.2 213.3L308.7 203.9L317.8 213.3L308.7 222.9L305.6 226.2L308.7 229.4L317.6 239.0ZM385.2 239.0L394.9 248.5L394.9 247.6L386.1 239.0L382.6 228.7L370.3 235.7L361.2 226.2L361.2 213.3L361.0 200.5L370.3 190.3L382.6 189.8L393.2 200.5L392.9 213.3L387.3 226.2L394.9 227.9L394.9 226.8L392.1 226.2L393.5 213.3L393.6 200.5L382.6 189.4L370.3 189.7L360.5 200.5L360.6 213.3L360.6 226.2L370.3 236.3L382.6 231.3Z"/>
<path fill="#00e000" stroke="#00e000" stroke-width="0.4" d="M271.8 310.1L271.8 311.1L279.3 303.1L271.8 295.4L271.8 296.4L278.3 303.1ZM313.4 315.9L314.3 315.9L321.0 309.0L327.7 315.9L328.6 315.9L321.0 308.1ZM337.0 290.3L345.7 299.6L354.9 290.3L358.0 285.6L365.3 277.4L358.0 269.8L350.4 277.4L345.7 280.9ZM345.7 298.9L337.6 290.3L345.7 281.6L351.4 277.4L358.0 270.8L364.3 277.4L358.0 284.5L354.1 290.3ZM392.7 290.3L394.9 292.7L394.9 290.3L394.9 287.8ZM299.2 239.0L308.7 248.3L317.6 239.0L308.7 229.4L305.6 226.2L308.7 222.9L317.8 213.3L308.7 203.9L298.2 213.3L296.4 215.2L287.5 226.2L296.4 236.1ZM308.7 247.7L299.8 239.0L296.4 235.4L288.2 226.2L296.4 216.0L299.0 213.3L308.7 204.6L317.2 213.3L308.7 222.2L304.9 226.2L308.7 230.1L317.0 239.0ZM386.1 239.0L394.9 247.6L394.9 246.8L387.0 239.0L394.9 229.0L394.9 227.9L387.3 226.2L392.9 213.3L393.2 200.5L382.6 189.8L370.3 190.3L361.0 200.5L361.2 213.3L361.2 226.2L370.3 235.7L382.6 228.7ZM370.3 235.0L361.8 226.2L361.7 213.3L361.6 200.5L370.3 190.9L382.6 190.3L392.7 200.5L392.4 213.3L382.6 226.2L382.6 226.2Z"/>
<path fill="#00c200" stroke="#00c200" stroke-width="0.4" d="M271.8 309.1L271.8 310.1L278.3 303.1L271.8 296.4L271.8 297.3L277.4 303.1ZM314.3 315.9L315.2 315.9L321.0 310.0L326.8 315.9L327.7 315.9L321.0 309.0ZM337.6 290.3L345.7 298.9L354.1 290.3L358.0 284.5L364.3 277.4L358.0 270.8L351.4 277.4L345.7 281.6ZM345.7 298.2L338.3 290.3L345.7 282.3L352.4 277.4L358.0 271.8L363.4 277.4L358.0 283.4L353.4 290.3ZM299.8 239.0L308.7 247.7L317.0 239.0L308.7 230.1L304.9 226.2L308.7 222.2L317.2 213.3L308.7 204.6L299.0 213.3L296.4 216.0L288.2 226.2L296.4 235.4ZM308.7 247.0L300.5 239.0L296.4 234.7L288.8 226.2L296.4 216.8L299.7 213.3L308.7 205.2L316.5 213.3L308.7 221.5L304.3 226.2L308.7 230.8L316.3 239.0ZM387.0 239.0L394.9 246.8L394.9 245.9L387.9 239.0L394.9 230.1L394.9 229.0ZM361.8 226.2L370.3 235.0L382.6 226.2L382.6 226.2L392.4 213.3L392.7 200.5L382.6 190.3L370.3 190.9L361.6 200.5L361.7 213.3ZM370.3 234.4L362.4 226.2L362.3 213.3L362.1 200.5L370.3 191.5L382.6 190.8L392.2 200.5L391.8 213.3L382.6 225.4L381.7 226.2Z"/>
<path fill="#00a300" stroke="#00a300" stroke-width="0.4" d="M271.8 308.1L271.8 309.1L277.4 303.1L271.8 297.3L271.8 298.3L276.5 303.1ZM315.2 315.9L316.2 315.9L321.0 310.9L325.9 315.9L326.8 315.9L321.0 310.0ZM338.3 290.3L345.7 298.2L353.4 290.3L358.0 283.4L363.4 277.4L358.0 271.8L352.4 277.4L345.7 282.3ZM345.7 297.5L339.0 290.3L345.7 283.1L352.7 290.3ZM358.0 282.4L353.4 277.4L358.0 272.8L362.4 277.4ZM300.5 239.0L308.7 247.0L316.3 239.0L308.7 230.8L304.3 226.2L308.7 221.5L316.5 213.3L308.7 205.2L299.7 213.3L296.4 216.8L288.8 226.2L296.4 234.7ZM308.7 246.3L301.2 239.0L296.4 234.0L289.4 226.2L296.4 217.6L300.5 213.3L308.7 205.9L315.9 213.3L308.7 220.8L303.6 226.2L308.7 231.5L315.7 239.0ZM387.9 239.0L394.9 245.9L394.9 245.0L388.7 239.0L394.9 231.2L394.9 230.1ZM362.4 226.2L370.3 234.4L381.7 226.2L382.6 225.4L391.8 213.3L392.2 200.5L382.6 190.8L370.3 191.5L362.1 200.5L362.3 213.3ZM370.3 233.8L363.0 226.2L362.9 213.3L362.7 200.5L370.3 192.1L382.6 191.3L391.7 200.5L391.3 213.3L382.6 224.7L380.8 226.2Z"/>
<path fill="#008500" stroke="#008500" stroke-width="0.4" d="M271.8 307.1L271.8 308.1L276.5 303.1L271.8 298.3L271.8 299.3L275.5 303.1ZM316.2 315.9L317.1 315.9L321.0 311.8L325.0 315.9L325.9 315.9L321.0 310.9ZM339.0 290.3L345.7 297.5L352.7 290.3L345.7 283.1ZM345.7 296.7L339.6 290.3L345.7 283.8L352.0 290.3ZM353.4 277.4L358.0 282.4L362.4 277.4L358.0 272.8ZM358.0 281.3L354.4 277.4L358.0 273.8L361.4 277.4ZM301.2 239.0L308.7 246.3L315.7 239.0L308.7 231.5L303.6 226.2L308.7 220.8L315.9 213.3L308.7 205.9L300.5 213.3L296.4 217.6L289.4 226.2L296.4 234.0ZM308.7 245.7L301.9 239.0L296.4 233.3L290.1 226.2L296.4 218.3L301.2 213.3L308.7 206.6L315.2 213.3L308.7 220.2L303.0 226.2L308.7 232.2L315.1 239.0ZM388.7 239.0L394.9 245.0L394.9 244.2L389.6 239.0L394.9 232.3L394.9 231.2ZM363.0 226.2L370.3 233.8L380.8 226.2L382.6 224.7L391.3 213.3L391.7 200.5L382.6 191.3L370.3 192.1L362.7 200.5L362.9 213.3ZM370.3 233.1L363.6 226.2L363.4 213.3L363.2 200.5L370.3 192.7L382.6 191.8L391.2 200.5L390.8 213.3L382.6 224.0L380.0 226.2Z"/>
<path fill="#fff200" stroke="#fff200" stroke-width="0.4" d="M271.8 306.1L271.8 307.1L275.5 303.1L271.8 299.3L271.8 300.2L274.6 303.1ZM317.1 315.9L318.0 315.9L321.0 312.7L324.1 315.9L325.0 315.9L321.0 311.8ZM339.6 290.3L345.7 296.7L352.0 290.3L345.7 283.8ZM345.7 296.0L340.3 290.3L345.7 284.5L351.3 290.3ZM354.4 277.4L358.0 281.3L361.4 277.4L358.0 273.8ZM358.0 280.2L355.4 277.4L358.0 274.8L360.5 277.4ZM301.9 239.0L308.7 245.7L315.1 239.0L308.7 232.2L303.0 226.2L308.7 220.2L315.2 213.3L308.7 206.6L301.2 213.3L296.4 218.3L290.1 226.2L296.4 233.3ZM308.7 245.0L302.6 239.0L308.7 232.8L314.4 239.0ZM296.4 232.6L290.7 226.2L296.4 219.1L302.0 213.3L308.7 207.3L314.6 213.3L308.7 219.5L302.3 226.2ZM389.6 239.0L394.9 244.2L394.9 243.3L390.5 239.0L394.9 233.5L394.9 232.3ZM363.6 226.2L370.3 233.1L380.0 226.2L382.6 224.0L390.8 213.3L391.2 200.5L382.6 191.8L370.3 192.7L363.2 200.5L363.4 213.3ZM370.3 232.5L364.2 226.2L364.0 213.3L363.7 200.5L370.3 193.3L382.6 192.3L390.8 200.5L390.2 213.3L382.6 223.3L379.1 226.2Z"/>
<path fill="#ffe600" stroke="#ffe600" stroke-width="0.4" d="M271.8 305.1L271.8 306.1L274.6 303.1L271.8 300.2L271.8 301.2L273.7 303.1ZM318.0 315.9L318.9 315.9L321.0 313.7L323.2 315.9L324.1 315.9L321.0 312.7ZM340.3 290.3L345.7 296.0L351.3 290.3L345.7 284.5ZM345.7 295.3L341.0 290.3L345.7 285.2L350.6 290.3ZM355.4 277.4L358.0 280.2L360.5 277.4L358.0 274.8ZM358.0 279.1L356.4 277.4L358.0 275.8L359.5 277.4ZM302.6 239.0L308.7 245.0L314.4 239.0L308.7 232.8ZM308.7 244.3L303.3 239.0L308.7 233.5L313.8 239.0ZM390.5 239.0L394.9 243.3L394.9 242.4L391.4 239.0L394.9 234.6L394.9 233.5ZM290.7 226.2L296.4 232.6L302.3 226.2L308.7 219.5L314.6 213.3L308.7 207.3L302.0 213.3L296.4 219.1ZM296.4 231.9L291.3 226.2L296.4 219.9L301.7 226.2ZM308.7 218.8L302.7 213.3L308.7 207.9L313.9 213.3ZM364.2 226.2L370.3 232.5L379.1 226.2L382.6 223.3L390.2 213.3L390.8 200.5L382.6 192.3L370.3 193.3L363.7 200.5L364.0 213.3ZM370.3 231.9L364.8 226.2L364.6 213.3L364.3 200.5L370.3 193.9L382.6 192.8L390.3 200.5L389.7 213.3L382.6 222.6L378.2 226.2Z"/>
<path fill="#ffd900" stroke="#ffd900" stroke-width="0.4" d="M271.8 304.1L271.8 305.1L273.7 303.1L271.8 301.2L271.8 302.1L272.7 303.1ZM318.9 315.9L319.8 315.9L321.0 314.6L322.3 315.9L323.2 315.9L321.0 313.7ZM341.0 290.3L345.7 295.3L350.6 290.3L345.7 285.2ZM345.7 294.6L341.6 290.3L345.7 285.9L349.9 290.3ZM356.4 277.4L358.0 279.1L359.5 277.4L358.0 275.8ZM358.0 278.1L357.4 277.4L358.0 276.8L358.5 277.4ZM303.3 239.0L308.7 244.3L313.8 239.0L308.7 233.5ZM308.7 243.7L303.9 239.0L308.7 234.2L313.2 239.0ZM391.4 239.0L394.9 242.4L394.9 241.6L392.3 239.0L394.9 235.7L394.9 234.6ZM291.3 226.2L296.4 231.9L301.7 226.2L296.4 219.9ZM296.4 231.1L292.0 226.2L296.4 220.7L301.0 226.2ZM364.8 226.2L370.3 231.9L378.2 226.2L382.6 222.6L389.7 213.3L390.3 200.5L382.6 192.8L370.3 193.9L364.3 200.5L364.6 213.3ZM370.3 231.2L365.5 226.2L365.2 213.3L364.8 200.5L370.3 194.5L382.6 193.2L389.8 200.5L389.1 213.3L382.6 221.9L377.3 226.2ZM302.7 213.3L308.7 218.8L313.9 213.3L308.7 207.9ZM308.7 218.1L303.5 213.3L308.7 208.6L313.3 213.3Z"/>
<path fill="#ffb800" stroke="#ffb800" stroke-width="0.4" d="M271.8 303.1L271.8 304.1L272.7 303.1L271.8 302.1ZM319.8 315.9L320.7 315.9L321.0 315.5L321.4 315.9L322.3 315.9L321.0 314.6ZM341.6 290.3L345.7 294.6L349.9 290.3L345.7 285.9ZM345.7 293.9L342.3 290.3L345.7 286.7L349.2 290.3ZM357.4 277.4L358.0 278.1L358.5 277.4L358.0 276.8ZM303.9 239.0L308.7 243.7L313.2 239.0L308.7 234.2ZM308.7 243.0L304.6 239.0L308.7 234.9L312.5 239.0ZM392.3 239.0L394.9 241.6L394.9 240.7L393.1 239.0L394.9 236.8L394.9 235.7ZM292.0 226.2L296.4 231.1L301.0 226.2L296.4 220.7ZM296.4 230.4L292.6 226.2L296.4 221.5L300.3 226.2ZM365.5 226.2L370.3 231.2L377.3 226.2L382.6 221.9L389.1 213.3L389.8 200.5L382.6 193.2L370.3 194.5L364.8 200.5L365.2 213.3ZM370.3 230.6L366.1 226.2L365.7 213.3L365.4 200.5L370.3 195.1L382.6 193.7L389.3 200.5L388.6 213.3L382.6 221.2L376.4 226.2ZM303.5 213.3L308.7 218.1L313.3 213.3L308.7 208.6ZM308.7 217.4L304.2 213.3L308.7 209.3L312.6 213.3Z"/>
<path fill="#ff8000" stroke="#ff8000" stroke-width="0.4" d="M320.7 315.9L321.0 315.9L321.4 315.9L321.0 315.5ZM342.3 290.3L345.7 293.9L349.2 290.3L345.7 286.7ZM345.7 293.1L343.0 290.3L345.7 287.4L348.5 290.3ZM304.6 239.0L308.7 243.0L312.5 239.0L308.7 234.9ZM308.7 242.3L305.3 239.0L308.7 235.6L311.9 239.0ZM393.1 239.0L394.9 240.7L394.9 239.8L394.0 239.0L394.9 237.9L394.9 236.8ZM292.6 226.2L296.4 230.4L300.3 226.2L296.4 221.5ZM296.4 229.7L293.2 226.2L296.4 222.3L299.7 226.2ZM366.1 226.2L370.3 230.6L376.4 226.2L382.6 221.2L388.6 213.3L389.3 200.5L382.6 193.7L370.3 195.1L365.4 200.5L365.7 213.3ZM370.3 230.0L366.7 226.2L366.3 213.3L365.9 200.5L370.3 195.7L382.6 194.2L388.8 200.5L388.0 213.3L382.6 220.5L375.6 226.2ZM304.2 213.3L308.7 217.4L312.6 213.3L308.7 209.3ZM308.7 216.7L305.0 213.3L308.7 210.0L312.0 213.3Z"/>
<path fill="#ff0000" stroke="#ff0000" stroke-width="0.4" d="M343.0 290.3L345.7 293.1L348.5 290.3L345.7 287.4ZM345.7 292.4L343.7 290.3L345.7 288.1L347.8 290.3ZM305.3 239.0L308.7 242.3L311.9 239.0L308.7 235.6ZM308.7 241.7L306.0 239.0L308.7 236.3L311.3 239.0ZM394.0 239.0L394.9 239.8L394.9 239.0L394.9 237.9ZM293.2 226.2L296.4 229.7L299.7 226.2L296.4 222.3ZM296.4 229.0L293.9 226.2L296.4 223.0L299.0 226.2ZM366.7 226.2L370.3 230.0L375.6 226.2L382.6 220.5L388.0 213.3L388.8 200.5L382.6 194.2L370.3 195.7L365.9 200.5L366.3 213.3ZM370.3 229.3L367.3 226.2L366.9 213.3L366.5 200.5L370.3 196.3L382.6 194.7L388.4 200.5L387.5 213.3L382.6 219.7L374.7 226.2ZM305.0 213.3L308.7 216.7L312.0 213.3L308.7 210.0ZM308.7 216.1L305.7 213.3L308.7 210.6L311.3 213.3Z"/>
<path fill="#e60000" stroke="#e60000" stroke-width="0.4" d="M343.7 290.3L345.7 292.4L347.8 290.3L345.7 288.1ZM345.7 291.7L344.3 290.3L345.7 288.8L347.1 290.3ZM306.0 239.0L308.7 241.7L311.3 239.0L308.7 236.3ZM308.7 241.0L306.7 239.0L308.7 236.9L310.6 239.0ZM293.9 226.2L296.4 229.0L299.0 226.2L296.4 223.0ZM296.4 228.3L294.5 226.2L296.4 223.8L298.4 226.2ZM367.3 226.2L370.3 229.3L374.7 226.2L382.6 219.7L387.5 213.3L388.4 200.5L382.6 194.7L370.3 196.3L366.5 200.5L366.9 213.3ZM370.3 228.7L367.9 226.2L367.4 213.3L367.0 200.5L370.3 196.9L382.6 195.2L387.9 200.5L386.9 213.3L382.6 219.0L373.8 226.2ZM305.7 213.3L308.7 216.1L311.3 213.3L308.7 210.6ZM308.7 215.4L306.5 213.3L308.7 211.3L310.7 213.3Z"/>
<path fill="#cc0000" stroke="#cc0000" stroke-width="0.4" d="M344.3 290.3L345.7 291.7L347.1 290.3L345.7 288.8ZM345.7 291.0L345.0 290.3L345.7 289.5L346.4 290.3ZM306.7 239.0L308.7 241.0L310.6 239.0L308.7 236.9ZM308.7 240.3L307.4 239.0L308.7 237.6L310.0 239.0ZM294.5 226.2L296.4 228.3L298.4 226.2L296.4 223.8ZM296.4 227.6L295.2 226.2L296.4 224.6L297.7 226.2ZM367.9 226.2L370.3 228.7L373.8 226.2L382.6 219.0L386.9 213.3L387.9 200.5L382.6 195.2L370.3 196.9L367.0 200.5L367.4 213.3ZM370.3 228.1L368.5 226.2L368.0 213.3L367.6 200.5L370.3 197.5L382.6 195.7L387.4 200.5L386.4 213.3L382.6 218.3L372.9 226.2ZM306.5 213.3L308.7 215.4L310.7 213.3L308.7 211.3ZM308.7 214.7L307.2 213.3L308.7 212.0L310.0 213.3Z"/>
<path fill="#ad0000" stroke="#ad0000" stroke-width="0.4" d="M345.0 290.3L345.7 291.0L346.4 290.3L345.7 289.5ZM307.4 239.0L308.7 240.3L310.0 239.0L308.7 237.6ZM308.7 239.6L308.0 239.0L308.7 238.3L309.4 239.0ZM295.2 226.2L296.4 227.6L297.7 226.2L296.4 224.6ZM296.4 226.9L295.8 226.2L296.4 225.4L297.1 226.2ZM368.5 226.2L370.3 228.1L372.9 226.2L382.6 218.3L386.4 213.3L387.4 200.5L382.6 195.7L370.3 197.5L367.6 200.5L368.0 213.3ZM370.3 227.4L369.1 226.2L368.6 213.3L368.1 200.5L370.3 198.1L382.6 196.1L386.9 200.5L385.9 213.3L382.6 217.6L372.0 226.2ZM307.2 213.3L308.7 214.7L310.0 213.3L308.7 212.0ZM308.7 214.0L308.0 213.3L308.7 212.7L309.4 213.3Z"/>
<path fill="#940000" stroke="#940000" stroke-width="0.4" d="M308.0 239.0L308.7 239.6L309.4 239.0L308.7 238.3ZM295.8 226.2L296.4 226.9L297.1 226.2L296.4 225.4ZM369.1 226.2L370.3 227.4L372.0 226.2L382.6 217.6L385.9 213.3L386.9 200.5L382.6 196.1L370.3 198.1L368.1 200.5L368.6 213.3ZM308.0 213.3L308.7 214.0L309.4 213.3L308.7 212.7Z"/>
</g>
<rect x="398.6" y="190.20" width="6.8" height="6.45" fill="#990000"/>
<rect x="398.6" y="196.34" width="6.8" height="6.45" fill="#cc0000"/>
<rect x="398.6" y="202.49" width="6.8" height="6.45" fill="#ff0000"/>
<rect x="398.6" y="208.63" width="6.8" height="6.45" fill="#ff3300"/>
<rect x="398.6" y="214.78" width="6.8" height="6.45" fill="#ff6600"/>
<rect x="398.6" y="220.93" width="6.8" height="6.45" fill="#ff9900"/>
<rect x="398.6" y="227.07" width="6.8" height="6.45" fill="#ffcc00"/>
<rect x="398.6" y="233.22" width="6.8" height="6.45" fill="#ffff00"/>
<rect x="398.6" y="239.36" width="6.8" height="6.45" fill="#ccff33"/>
<rect x="398.6" y="245.50" width="6.8" height="6.45" fill="#99ff66"/>
<rect x="398.6" y="251.65" width="6.8" height="6.45" fill="#66ff99"/>
<rect x="398.6" y="257.80" width="6.8" height="6.45" fill="#33ffcc"/>
<rect x="398.6" y="263.94" width="6.8" height="6.45" fill="#00ffff"/>
<rect x="398.6" y="270.09" width="6.8" height="6.45" fill="#00ccff"/>
<rect x="398.6" y="276.23" width="6.8" height="6.45" fill="#0099ff"/>
<rect x="398.6" y="282.38" width="6.8" height="6.45" fill="#0066ff"/>
<rect x="398.6" y="288.52" width="6.8" height="6.45" fill="#0033ff"/>
<rect x="398.6" y="294.67" width="6.8" height="6.45" fill="#0000ff"/>
<rect x="398.6" y="300.81" width="6.8" height="6.45" fill="#0000cc"/>
<rect x="398.6" y="306.96" width="6.8" height="6.15" fill="#000099"/>
<g>
<rect x="39.4" y="374.0" width="128.8" height="126.1" fill="#000099"/>
<path fill="#000099" stroke="#000099" stroke-width="0.4" d="M39.4 500.1L52.3 500.1L52.8 500.1L52.3 499.6L39.9 487.5L52.3 475.4L64.7 487.5L65.2 488.0L77.6 500.1L78.0 500.1L90.9 500.1L103.8 500.1L104.3 500.1L103.8 499.6L91.4 487.5L103.8 475.4L116.2 487.5L116.7 488.0L129.6 488.0L130.0 487.5L142.4 475.4L154.8 487.5L154.8 500.1L155.3 500.1L168.2 500.1L168.2 499.6L155.8 487.5L168.2 475.4L168.2 474.9L168.2 462.3L168.2 449.7L168.2 437.1L168.2 424.4L168.2 411.8L168.2 399.2L168.2 386.6L168.2 374.0L155.3 374.0L142.4 374.0L129.6 374.0L116.7 374.0L103.8 374.0L90.9 374.0L78.0 374.0L65.2 374.0L52.3 374.0L39.4 374.0L39.4 386.6L39.4 399.2L39.4 411.8L39.4 412.3L51.8 424.4L39.4 436.6L39.4 437.1L39.4 449.7L39.4 462.3L39.4 474.9L39.4 487.5ZM65.2 398.7L52.8 386.6L65.2 374.5L77.6 386.6ZM78.0 474.4L65.6 462.3L78.0 450.1L90.4 462.3ZM103.8 449.2L91.4 437.1L103.8 424.9L116.2 437.1ZM155.3 449.2L142.9 437.1L155.3 424.9L167.7 437.1ZM155.3 411.4L142.9 399.2L155.3 387.1L167.7 399.2Z"/>
<path fill="#000099" stroke="#000099" stroke-width="0.4" d="M39.9 487.5L52.3 499.6L52.8 500.1L53.4 500.1L52.3 499.0L40.5 487.5L52.3 476.0L64.0 487.5L65.2 488.6L76.9 500.1L77.6 500.1L65.2 488.0L64.7 487.5L52.3 475.4ZM91.4 487.5L103.8 499.6L104.3 500.1L105.1 500.1L103.8 499.0L92.1 487.5L103.8 476.0L115.5 487.5L116.7 488.7L129.6 488.7L130.7 487.5L142.4 476.0L154.2 487.5L154.2 500.1L154.8 500.1L154.8 487.5L142.4 475.4L130.0 487.5L129.6 488.0L116.7 488.0L116.2 487.5L103.8 475.4ZM155.8 487.5L168.2 499.6L168.2 499.0L156.5 487.5L168.2 476.0L168.2 475.4ZM65.6 462.3L78.0 474.4L90.4 462.3L78.0 450.1ZM78.0 473.8L66.3 462.3L78.0 450.8L89.8 462.3ZM91.4 437.1L103.8 449.2L116.2 437.1L103.8 424.9ZM103.8 448.6L92.1 437.1L103.8 425.5L115.5 437.1ZM142.9 437.1L155.3 449.2L167.7 437.1L155.3 424.9ZM155.3 448.6L143.6 437.1L155.3 425.5L167.1 437.1ZM39.4 435.9L39.4 436.6L51.8 424.4L39.4 412.3L39.4 412.9L51.1 424.4ZM142.9 399.2L155.3 411.4L167.7 399.2L155.3 387.1ZM155.3 410.7L143.6 399.2L155.3 387.7L167.1 399.2ZM52.8 386.6L65.2 398.7L77.6 386.6L65.2 374.5ZM65.2 398.1L53.4 386.6L65.2 375.1L76.9 386.6Z"/>
<path fill="#0000c7" stroke="#0000c7" stroke-width="0.4" d="M40.5 487.5L52.3 499.0L53.4 500.1L54.1 500.1L52.3 498.4L41.2 487.5L52.3 476.6L63.4 487.5L65.2 489.2L76.3 500.1L76.9 500.1L65.2 488.6L64.0 487.5L52.3 476.0ZM92.1 487.5L103.8 499.0L105.1 500.1L105.8 500.1L103.8 498.4L92.7 487.5L103.8 476.6L114.9 487.5L116.7 489.4L129.6 489.4L131.3 487.5L142.4 476.6L153.5 487.5L153.5 500.1L154.2 500.1L154.2 487.5L142.4 476.0L130.7 487.5L129.6 488.7L116.7 488.7L115.5 487.5L103.8 476.0ZM156.5 487.5L168.2 499.0L168.2 498.4L157.1 487.5L168.2 476.6L168.2 476.0ZM66.3 462.3L78.0 473.8L89.8 462.3L78.0 450.8ZM78.0 473.1L66.9 462.3L78.0 451.4L89.1 462.3ZM92.1 437.1L103.8 448.6L115.5 437.1L103.8 425.5ZM103.8 447.9L92.7 437.1L103.8 426.2L114.9 437.1ZM143.6 437.1L155.3 448.6L167.1 437.1L155.3 425.5ZM155.3 447.9L144.2 437.1L155.3 426.2L166.4 437.1ZM39.4 435.3L39.4 435.9L51.1 424.4L39.4 412.9L39.4 413.6L50.5 424.4ZM143.6 399.2L155.3 410.7L167.1 399.2L155.3 387.7ZM155.3 410.1L144.2 399.2L155.3 388.4L166.4 399.2ZM53.4 386.6L65.2 398.1L76.9 386.6L65.2 375.1ZM65.2 397.5L54.1 386.6L65.2 375.7L76.3 386.6Z"/>
<path fill="#0033ff" stroke="#0033ff" stroke-width="0.4" d="M41.2 487.5L52.3 498.4L54.1 500.1L54.7 500.1L52.3 497.7L41.8 487.5L52.3 477.3L62.7 487.5L65.2 489.9L75.6 500.1L76.3 500.1L65.2 489.2L63.4 487.5L52.3 476.6ZM92.7 487.5L103.8 498.4L105.8 500.1L106.5 500.1L103.8 497.7L93.3 487.5L103.8 477.3L114.3 487.5L116.7 490.1L129.6 490.1L132.0 487.5L142.4 477.3L152.9 487.5L152.9 500.1L153.5 500.1L153.5 487.5L142.4 476.6L131.3 487.5L129.6 489.4L116.7 489.4L114.9 487.5L103.8 476.6ZM157.1 487.5L168.2 498.4L168.2 497.7L157.7 487.5L168.2 477.3L168.2 476.6ZM66.9 462.3L78.0 473.1L89.1 462.3L78.0 451.4ZM78.0 472.5L67.6 462.3L78.0 452.0L88.5 462.3ZM92.7 437.1L103.8 447.9L114.9 437.1L103.8 426.2ZM103.8 447.3L93.3 437.1L103.8 426.8L114.3 437.1ZM144.2 437.1L155.3 447.9L166.4 437.1L155.3 426.2ZM155.3 447.3L144.9 437.1L155.3 426.8L165.8 437.1ZM39.4 434.7L39.4 435.3L50.5 424.4L39.4 413.6L39.4 414.2L49.9 424.4ZM144.2 399.2L155.3 410.1L166.4 399.2L155.3 388.4ZM155.3 409.5L144.9 399.2L155.3 389.0L165.8 399.2ZM54.1 386.6L65.2 397.5L76.3 386.6L65.2 375.7ZM65.2 396.8L54.7 386.6L65.2 376.4L75.6 386.6Z"/>
<path fill="#0066ff" stroke="#0066ff" stroke-width="0.4" d="M41.8 487.5L52.3 497.7L54.7 500.1L55.3 500.1L52.3 497.1L42.5 487.5L52.3 477.9L62.1 487.5L65.2 490.5L75.0 500.1L75.6 500.1L65.2 489.9L62.7 487.5L52.3 477.3ZM93.3 487.5L103.8 497.7L106.5 500.1L107.2 500.1L103.8 497.1L94.0 487.5L103.8 477.9L113.6 487.5L116.7 490.8L129.6 490.8L132.6 487.5L142.4 477.9L152.3 487.5L152.3 500.1L152.9 500.1L152.9 487.5L142.4 477.3L132.0 487.5L129.6 490.1L116.7 490.1L114.3 487.5L103.8 477.3ZM157.7 487.5L168.2 497.7L168.2 497.1L158.4 487.5L168.2 477.9L168.2 477.3ZM67.6 462.3L78.0 472.5L88.5 462.3L78.0 452.0ZM78.0 471.9L68.2 462.3L78.0 452.7L87.9 462.3ZM93.3 437.1L103.8 447.3L114.3 437.1L103.8 426.8ZM103.8 446.7L94.0 437.1L103.8 427.4L113.6 437.1ZM144.9 437.1L155.3 447.3L165.8 437.1L155.3 426.8ZM155.3 446.7L145.5 437.1L155.3 427.4L165.1 437.1ZM39.4 434.0L39.4 434.7L49.9 424.4L39.4 414.2L39.4 414.8L49.2 424.4ZM144.9 399.2L155.3 409.5L165.8 399.2L155.3 389.0ZM155.3 408.8L145.5 399.2L155.3 389.6L165.1 399.2ZM54.7 386.6L65.2 396.8L75.6 386.6L65.2 376.4ZM65.2 396.2L55.3 386.6L65.2 377.0L75.0 386.6Z"/>
<path fill="#0099ff" stroke="#0099ff" stroke-width="0.4" d="M42.5 487.5L52.3 497.1L55.3 500.1L56.0 500.1L52.3 496.5L43.1 487.5L52.3 478.5L61.5 487.5L65.2 491.1L74.3 500.1L75.0 500.1L65.2 490.5L62.1 487.5L52.3 477.9ZM94.0 487.5L103.8 497.1L107.2 500.1L107.9 500.1L103.8 496.5L94.6 487.5L103.8 478.5L113.0 487.5L116.7 491.5L129.6 491.5L133.3 487.5L142.4 478.5L151.6 487.5L151.6 500.1L152.3 500.1L152.3 487.5L142.4 477.9L132.6 487.5L129.6 490.8L116.7 490.8L113.6 487.5L103.8 477.9ZM158.4 487.5L168.2 497.1L168.2 496.5L159.0 487.5L168.2 478.5L168.2 477.9ZM68.2 462.3L78.0 471.9L87.9 462.3L78.0 452.7ZM78.0 471.2L68.9 462.3L78.0 453.3L87.2 462.3ZM94.0 437.1L103.8 446.7L113.6 437.1L103.8 427.4ZM103.8 446.0L94.6 437.1L103.8 428.1L113.0 437.1ZM145.5 437.1L155.3 446.7L165.1 437.1L155.3 427.4ZM155.3 446.0L146.1 437.1L155.3 428.1L164.5 437.1ZM39.4 433.4L39.4 434.0L49.2 424.4L39.4 414.8L39.4 415.5L48.6 424.4ZM145.5 399.2L155.3 408.8L165.1 399.2L155.3 389.6ZM155.3 408.2L146.1 399.2L155.3 390.2L164.5 399.2ZM55.3 386.6L65.2 396.2L75.0 386.6L65.2 377.0ZM65.2 395.6L56.0 386.6L65.2 377.6L74.3 386.6Z"/>
<path fill="#00ccff" stroke="#00ccff" stroke-width="0.4" d="M43.1 487.5L52.3 496.5L56.0 500.1L56.6 500.1L52.3 495.8L43.8 487.5L52.3 479.1L60.8 487.5L65.2 491.8L73.7 500.1L74.3 500.1L65.2 491.1L61.5 487.5L52.3 478.5ZM94.6 487.5L103.8 496.5L107.9 500.1L108.6 500.1L103.8 495.8L95.3 487.5L103.8 479.1L112.3 487.5L116.7 492.2L129.6 492.2L133.9 487.5L142.4 479.1L151.0 487.5L151.0 500.1L151.6 500.1L151.6 487.5L142.4 478.5L133.3 487.5L129.6 491.5L116.7 491.5L113.0 487.5L103.8 478.5ZM159.0 487.5L168.2 496.5L168.2 495.8L159.7 487.5L168.2 479.1L168.2 478.5ZM68.9 462.3L78.0 471.2L87.2 462.3L78.0 453.3ZM78.0 470.6L69.5 462.3L78.0 453.9L86.6 462.3ZM94.6 437.1L103.8 446.0L113.0 437.1L103.8 428.1ZM103.8 445.4L95.3 437.1L103.8 428.7L112.3 437.1ZM146.1 437.1L155.3 446.0L164.5 437.1L155.3 428.1ZM155.3 445.4L146.8 437.1L155.3 428.7L163.8 437.1ZM39.4 432.8L39.4 433.4L48.6 424.4L39.4 415.5L39.4 416.1L47.9 424.4ZM146.1 399.2L155.3 408.2L164.5 399.2L155.3 390.2ZM155.3 407.6L146.8 399.2L155.3 390.9L163.8 399.2ZM56.0 386.6L65.2 395.6L74.3 386.6L65.2 377.6ZM65.2 395.0L56.6 386.6L65.2 378.3L73.7 386.6Z"/>
<path fill="#00ffff" stroke="#00ffff" stroke-width="0.4" d="M43.8 487.5L52.3 495.8L56.6 500.1L57.3 500.1L52.3 495.2L44.4 487.5L52.3 479.8L60.2 487.5L65.2 492.4L73.0 500.1L73.7 500.1L65.2 491.8L60.8 487.5L52.3 479.1ZM95.3 487.5L103.8 495.8L108.6 500.1L109.4 500.1L103.8 495.2L95.9 487.5L103.8 479.8L111.7 487.5L116.7 492.9L129.6 492.9L134.6 487.5L142.4 479.8L150.3 487.5L150.3 500.1L151.0 500.1L151.0 487.5L142.4 479.1L133.9 487.5L129.6 492.2L116.7 492.2L112.3 487.5L103.8 479.1ZM159.7 487.5L168.2 495.8L168.2 495.2L160.3 487.5L168.2 479.8L168.2 479.1ZM69.5 462.3L78.0 470.6L86.6 462.3L78.0 453.9ZM78.0 470.0L70.2 462.3L78.0 454.6L85.9 462.3ZM95.3 437.0L103.8 445.4L112.3 437.0L103.8 428.7ZM103.8 444.8L95.9 437.1L103.8 429.3L111.7 437.1ZM146.8 437.0L155.3 445.4L163.8 437.0L155.3 428.7ZM155.3 444.8L147.4 437.1L155.3 429.3L163.2 437.1ZM39.4 432.2L39.4 432.8L47.9 424.4L39.4 416.1L39.4 416.7L47.3 424.4ZM146.8 399.2L155.3 407.6L163.8 399.2L155.3 390.9ZM155.3 406.9L147.4 399.2L155.3 391.5L163.2 399.2ZM56.6 386.6L65.2 395.0L73.7 386.6L65.2 378.3ZM65.2 394.3L57.3 386.6L65.2 378.9L73.0 386.6Z"/>
<path fill="#33ffcc" stroke="#33ffcc" stroke-width="0.4" d="M44.4 487.5L52.3 495.2L57.3 500.1L57.9 500.1L52.3 494.6L45.0 487.5L52.3 480.4L59.5 487.5L65.2 493.0L72.4 500.1L73.0 500.1L65.2 492.4L60.2 487.5L52.3 479.8ZM95.9 487.5L103.8 495.2L109.4 500.1L110.1 500.1L103.8 494.6L96.6 487.5L103.8 480.4L111.0 487.5L116.7 493.6L129.6 493.6L135.2 487.5L142.4 480.4L149.7 487.5L149.7 500.1L150.3 500.1L150.3 487.5L142.4 479.8L134.6 487.5L129.6 492.9L116.7 492.9L111.7 487.5L103.8 479.8ZM160.3 487.5L168.2 495.2L168.2 494.6L161.0 487.5L168.2 480.4L168.2 479.8ZM70.2 462.3L78.0 470.0L85.9 462.3L78.0 454.6ZM78.0 469.4L70.8 462.3L78.0 455.2L85.3 462.3ZM95.9 437.1L103.8 444.8L111.7 437.1L103.8 429.3ZM103.8 444.1L96.6 437.1L103.8 430.0L111.0 437.1ZM147.4 437.1L155.3 444.8L163.2 437.1L155.3 429.3ZM155.3 444.1L148.1 437.1L155.3 430.0L162.6 437.1ZM39.4 431.5L39.4 432.2L47.3 424.4L39.4 416.7L39.4 417.4L46.6 424.4ZM147.4 399.2L155.3 406.9L163.2 399.2L155.3 391.5ZM155.3 406.3L148.1 399.2L155.3 392.1L162.6 399.2ZM57.3 386.6L65.2 394.3L73.0 386.6L65.2 378.9ZM65.2 393.7L57.9 386.6L65.2 379.5L72.4 386.6Z"/>
<path fill="#66ff99" stroke="#66ff99" stroke-width="0.4" d="M45.0 487.5L52.3 494.6L57.9 500.1L58.6 500.1L52.3 493.9L45.7 487.5L52.3 481.0L58.9 487.5L65.2 493.6L71.8 500.1L72.4 500.1L65.2 493.0L59.5 487.5L52.3 480.4ZM96.6 487.5L103.8 494.6L110.1 500.1L110.8 500.1L116.7 494.3L129.6 494.3L135.8 487.5L142.4 481.0L149.0 487.5L149.0 500.1L149.7 500.1L149.7 487.5L142.4 480.4L135.2 487.5L129.6 493.6L116.7 493.6L111.0 487.5L103.8 480.4ZM103.8 493.9L97.2 487.5L103.8 481.0L110.4 487.5ZM161.0 487.5L168.2 494.6L168.2 493.9L161.6 487.5L168.2 481.0L168.2 480.4ZM70.8 462.3L78.0 469.4L85.3 462.3L78.0 455.2ZM78.0 468.7L71.4 462.3L78.0 455.8L84.6 462.3ZM96.6 437.1L103.8 444.1L111.0 437.1L103.8 430.0ZM103.8 443.5L97.2 437.1L103.8 430.6L110.4 437.1ZM148.1 437.1L155.3 444.1L162.6 437.1L155.3 430.0ZM155.3 443.5L148.7 437.1L155.3 430.6L161.9 437.1ZM39.4 430.9L39.4 431.5L46.6 424.4L39.4 417.4L39.4 418.0L46.0 424.4ZM148.1 399.2L155.3 406.3L162.6 399.2L155.3 392.1ZM155.3 405.7L148.7 399.2L155.3 392.8L161.9 399.2ZM57.9 386.6L65.2 393.7L72.4 386.6L65.2 379.5ZM65.2 393.1L58.6 386.6L65.2 380.2L71.8 386.6Z"/>
<path fill="#99ff66" stroke="#99ff66" stroke-width="0.4" d="M45.7 487.5L52.3 493.9L58.6 500.1L59.2 500.1L65.2 494.3L71.1 500.1L71.8 500.1L65.2 493.6L58.9 487.5L52.3 481.0ZM52.3 493.3L46.3 487.5L52.3 481.7L58.2 487.5ZM97.2 487.5L103.8 493.9L110.4 487.5L103.8 481.0ZM103.8 493.3L97.8 487.5L103.8 481.7L109.8 487.5ZM110.8 500.1L111.5 500.1L116.7 495.0L129.6 495.0L136.5 487.5L142.4 481.7L148.4 487.5L148.4 500.1L149.0 500.1L149.0 487.5L142.4 481.0L135.8 487.5L129.6 494.3L116.7 494.3ZM161.6 487.5L168.2 493.9L168.2 493.3L162.2 487.5L168.2 481.7L168.2 481.0ZM71.4 462.3L78.0 468.7L84.6 462.3L78.0 455.8ZM78.0 468.1L72.1 462.3L78.0 456.4L84.0 462.3ZM97.2 437.1L103.8 443.5L110.4 437.1L103.8 430.6ZM103.8 442.9L97.8 437.1L103.8 431.2L109.8 437.1ZM148.7 437.1L155.3 443.5L161.9 437.1L155.3 430.6ZM155.3 442.9L149.4 437.1L155.3 431.2L161.3 437.1ZM39.4 430.3L39.4 430.9L46.0 424.4L39.4 418.0L39.4 418.6L45.4 424.4ZM148.7 399.2L155.3 405.7L161.9 399.2L155.3 392.8ZM155.3 405.0L149.4 399.2L155.3 393.4L161.3 399.2ZM58.6 386.6L65.2 393.1L71.8 386.6L65.2 380.2ZM65.2 392.4L59.2 386.6L65.2 380.8L71.1 386.6Z"/>
<path fill="#ccff33" stroke="#ccff33" stroke-width="0.4" d="M46.3 487.5L52.3 493.3L58.2 487.5L52.3 481.7ZM52.3 492.7L47.0 487.5L52.3 482.3L57.6 487.5ZM59.2 500.1L59.9 500.1L65.2 494.9L70.5 500.1L71.1 500.1L65.2 494.3ZM97.8 487.5L103.8 493.3L109.8 487.5L103.8 481.7ZM103.8 492.7L98.5 487.5L103.8 482.3L109.1 487.5ZM111.5 500.1L112.2 500.1L116.7 495.7L129.6 495.7L137.1 487.5L142.4 482.3L147.7 487.5L147.7 500.1L148.4 500.1L148.4 487.5L142.4 481.7L136.5 487.5L129.6 495.0L116.7 495.0ZM162.2 487.5L168.2 493.3L168.2 492.7L162.9 487.5L168.2 482.3L168.2 481.7ZM72.1 462.3L78.0 468.1L84.0 462.3L78.0 456.4ZM78.0 467.5L72.7 462.3L78.0 457.1L83.3 462.3ZM97.8 437.1L103.8 442.9L109.8 437.1L103.8 431.2ZM103.8 442.2L98.5 437.1L103.8 431.9L109.1 437.1ZM149.4 437.1L155.3 442.9L161.3 437.1L155.3 431.2ZM155.3 442.2L150.0 437.1L155.3 431.9L160.6 437.1ZM39.4 429.6L39.4 430.3L45.4 424.4L39.4 418.6L39.4 419.2L44.7 424.4ZM149.4 399.2L155.3 405.0L161.3 399.2L155.3 393.4ZM155.3 404.4L150.0 399.2L155.3 394.0L160.6 399.2ZM59.2 386.6L65.2 392.4L71.1 386.6L65.2 380.8ZM65.2 391.8L59.9 386.6L65.2 381.4L70.5 386.6Z"/>
<path fill="#ffff00" stroke="#ffff00" stroke-width="0.4" d="M47.0 487.5L52.3 492.7L57.6 487.5L52.3 482.3ZM52.3 492.1L47.6 487.5L52.3 482.9L56.9 487.5ZM59.9 500.1L60.5 500.1L65.2 495.5L69.8 500.1L70.5 500.1L65.2 494.9ZM98.5 487.5L103.8 492.7L109.1 487.5L103.8 482.3ZM103.8 492.1L99.1 487.5L103.8 482.9L108.5 487.5ZM112.2 500.1L112.9 500.1L116.7 496.4L129.6 496.4L137.8 487.5L142.4 482.9L147.1 487.5L147.1 500.1L147.7 500.1L147.7 487.5L142.4 482.3L137.1 487.5L129.6 495.7L116.7 495.7ZM162.9 487.5L168.2 492.7L168.2 492.1L163.5 487.5L168.2 482.9L168.2 482.3ZM72.7 462.3L78.0 467.5L83.3 462.3L78.0 457.1ZM78.0 466.8L73.4 462.3L78.0 457.7L82.7 462.3ZM98.5 437.1L103.8 442.2L109.1 437.1L103.8 431.9ZM103.8 441.6L99.1 437.0L103.8 432.5L108.5 437.0ZM150.0 437.1L155.3 442.2L160.6 437.1L155.3 431.9ZM155.3 441.6L150.7 437.0L155.3 432.5L160.0 437.0ZM39.4 429.0L39.4 429.6L44.7 424.4L39.4 419.2L39.4 419.9L44.1 424.4ZM150.0 399.2L155.3 404.4L160.6 399.2L155.3 394.0ZM155.3 403.8L150.7 399.2L155.3 394.7L160.0 399.2ZM59.9 386.6L65.2 391.8L70.5 386.6L65.2 381.4ZM65.2 391.2L60.5 386.6L65.2 382.0L69.8 386.6Z"/>
<path fill="#ffcc00" stroke="#ffcc00" stroke-width="0.4" d="M47.6 487.5L52.3 492.1L56.9 487.5L52.3 482.9ZM52.3 491.4L48.3 487.5L52.3 483.6L56.3 487.5ZM60.5 500.1L61.1 500.1L65.2 496.2L69.2 500.1L69.8 500.1L65.2 495.5ZM99.1 487.5L103.8 492.1L108.5 487.5L103.8 482.9ZM103.8 491.4L99.8 487.5L103.8 483.6L107.8 487.5ZM112.9 500.1L113.6 500.1L116.7 497.1L129.6 497.1L138.4 487.5L142.4 483.6L146.5 487.5L146.5 500.1L147.1 500.1L147.1 487.5L142.4 482.9L137.8 487.5L129.6 496.4L116.7 496.4ZM163.5 487.5L168.2 492.1L168.2 491.4L164.2 487.5L168.2 483.6L168.2 482.9ZM73.4 462.3L78.0 466.8L82.7 462.3L78.0 457.7ZM78.0 466.2L74.0 462.3L78.0 458.3L82.1 462.3ZM99.1 437.0L103.8 441.6L108.5 437.0L103.8 432.5ZM103.8 441.0L99.8 437.0L103.8 433.1L107.8 437.0ZM150.7 437.0L155.3 441.6L160.0 437.0L155.3 432.5ZM155.3 441.0L151.3 437.0L155.3 433.1L159.3 437.0ZM39.4 428.4L39.4 429.0L44.1 424.4L39.4 419.9L39.4 420.5L43.4 424.4ZM150.7 399.2L155.3 403.8L160.0 399.2L155.3 394.7ZM155.3 403.2L151.3 399.2L155.3 395.3L159.3 399.2ZM60.5 386.6L65.2 391.2L69.8 386.6L65.2 382.0ZM65.2 390.5L61.1 386.6L65.2 382.7L69.2 386.6Z"/>
<path fill="#ff9900" stroke="#ff9900" stroke-width="0.4" d="M48.3 487.5L52.3 491.4L56.3 487.5L52.3 483.6ZM52.3 490.8L48.9 487.5L52.3 484.2L55.7 487.5ZM61.1 500.1L61.8 500.1L65.2 496.8L68.5 500.1L69.2 500.1L65.2 496.2ZM99.8 487.5L103.8 491.4L107.8 487.5L103.8 483.6ZM103.8 490.8L100.4 487.5L103.8 484.2L107.2 487.5ZM113.6 500.1L114.4 500.1L116.7 497.8L129.6 497.8L139.1 487.5L142.4 484.2L145.8 487.5L145.8 500.1L146.5 500.1L146.5 487.5L142.4 483.6L138.4 487.5L129.6 497.1L116.7 497.1ZM164.2 487.5L168.2 491.4L168.2 490.8L164.8 487.5L168.2 484.2L168.2 483.6ZM74.0 462.3L78.0 466.2L82.1 462.3L78.0 458.3ZM78.0 465.6L74.7 462.3L78.0 459.0L81.4 462.3ZM99.8 437.0L103.8 441.0L107.8 437.0L103.8 433.1ZM103.8 440.4L100.4 437.1L103.8 433.7L107.2 437.1ZM151.3 437.0L155.3 441.0L159.3 437.0L155.3 433.1ZM155.3 440.4L151.9 437.1L155.3 433.7L158.7 437.1ZM39.4 427.7L39.4 428.4L43.4 424.4L39.4 420.5L39.4 421.1L42.8 424.4ZM151.3 399.2L155.3 403.2L159.3 399.2L155.3 395.3ZM155.3 402.5L151.9 399.2L155.3 395.9L158.7 399.2ZM61.1 386.6L65.2 390.5L69.2 386.6L65.2 382.7ZM65.2 389.9L61.8 386.6L65.2 383.3L68.5 386.6Z"/>
<path fill="#ff6600" stroke="#ff6600" stroke-width="0.4" d="M48.9 487.5L52.3 490.8L55.7 487.5L52.3 484.2ZM52.3 490.2L49.5 487.5L52.3 484.8L55.0 487.5ZM61.8 500.1L62.4 500.1L65.2 497.4L67.9 500.1L68.5 500.1L65.2 496.8ZM100.4 487.5L103.8 490.8L107.2 487.5L103.8 484.2ZM103.8 490.2L101.1 487.5L103.8 484.8L106.5 487.5ZM114.4 500.1L115.1 500.1L116.7 498.5L129.6 498.5L139.7 487.5L142.4 484.8L145.2 487.5L145.2 500.1L145.8 500.1L145.8 487.5L142.4 484.2L139.1 487.5L129.6 497.8L116.7 497.8ZM164.8 487.5L168.2 490.8L168.2 490.2L165.5 487.5L168.2 484.8L168.2 484.2ZM74.7 462.3L78.0 465.6L81.4 462.3L78.0 459.0ZM78.0 464.9L75.3 462.3L78.0 459.6L80.8 462.3ZM100.4 437.1L103.8 440.4L107.2 437.1L103.8 433.7ZM103.8 439.7L101.1 437.1L103.8 434.4L106.5 437.1ZM151.9 437.1L155.3 440.4L158.7 437.1L155.3 433.7ZM155.3 439.7L152.6 437.1L155.3 434.4L158.1 437.1ZM39.4 427.1L39.4 427.7L42.8 424.4L39.4 421.1L39.4 421.8L42.1 424.4ZM151.9 399.2L155.3 402.5L158.7 399.2L155.3 395.9ZM155.3 401.9L152.6 399.2L155.3 396.5L158.1 399.2ZM61.8 386.6L65.2 389.9L68.5 386.6L65.2 383.3ZM65.2 389.3L62.4 386.6L65.2 383.9L67.9 386.6Z"/>
<path fill="#ff3300" stroke="#ff3300" stroke-width="0.4" d="M49.5 487.5L52.3 490.2L55.0 487.5L52.3 484.8ZM52.3 489.5L50.2 487.5L52.3 485.4L54.4 487.5ZM62.4 500.1L63.1 500.1L65.2 498.1L67.2 500.1L67.9 500.1L65.2 497.4ZM101.1 487.5L103.8 490.2L106.5 487.5L103.8 484.8ZM103.8 489.5L101.7 487.5L103.8 485.4L105.9 487.5ZM115.1 500.1L115.8 500.1L116.7 499.2L129.6 499.2L140.4 487.5L142.4 485.4L144.5 487.5L144.5 500.1L145.2 500.1L145.2 487.5L142.4 484.8L139.7 487.5L129.6 498.5L116.7 498.5ZM165.5 487.5L168.2 490.2L168.2 489.5L166.1 487.5L168.2 485.4L168.2 484.8ZM75.3 462.3L78.0 464.9L80.8 462.3L78.0 459.6ZM78.0 464.3L76.0 462.3L78.0 460.2L80.1 462.3ZM101.1 437.1L103.8 439.7L106.5 437.1L103.8 434.4ZM103.8 439.1L101.7 437.0L103.8 435.0L105.9 437.0ZM152.6 437.1L155.3 439.7L158.1 437.1L155.3 434.4ZM155.3 439.1L153.2 437.0L155.3 435.0L157.4 437.0ZM39.4 426.5L39.4 427.1L42.1 424.4L39.4 421.8L39.4 422.4L41.5 424.4ZM152.6 399.2L155.3 401.9L158.1 399.2L155.3 396.5ZM155.3 401.3L153.2 399.2L155.3 397.2L157.4 399.2ZM62.4 386.6L65.2 389.3L67.9 386.6L65.2 383.9ZM65.2 388.7L63.1 386.6L65.2 384.6L67.2 386.6Z"/>
<path fill="#ff0000" stroke="#ff0000" stroke-width="0.4" d="M50.2 487.5L52.3 489.5L54.4 487.5L52.3 485.4ZM52.3 488.9L50.8 487.5L52.3 486.1L53.7 487.5ZM63.1 500.1L63.7 500.1L65.2 498.7L66.6 500.1L67.2 500.1L65.2 498.1ZM101.7 487.5L103.8 489.5L105.9 487.5L103.8 485.4ZM103.8 488.9L102.4 487.5L103.8 486.1L105.2 487.5ZM115.8 500.1L116.5 500.1L116.7 499.9L129.6 499.9L141.0 487.5L142.4 486.1L143.9 487.5L143.9 500.1L144.5 500.1L144.5 487.5L142.4 485.4L140.4 487.5L129.6 499.2L116.7 499.2ZM166.1 487.5L168.2 489.5L168.2 488.9L166.8 487.5L168.2 486.1L168.2 485.4ZM76.0 462.3L78.0 464.3L80.1 462.3L78.0 460.2ZM78.0 463.7L76.6 462.3L78.0 460.9L79.5 462.3ZM101.7 437.0L103.8 439.1L105.9 437.0L103.8 435.0ZM103.8 438.5L102.4 437.1L103.8 435.6L105.2 437.1ZM153.2 437.0L155.3 439.1L157.4 437.0L155.3 435.0ZM155.3 438.5L153.9 437.1L155.3 435.6L156.8 437.1ZM39.4 425.9L39.4 426.5L41.5 424.4L39.4 422.4L39.4 423.0L40.8 424.4ZM153.2 399.2L155.3 401.3L157.4 399.2L155.3 397.2ZM155.3 400.6L153.9 399.2L155.3 397.8L156.8 399.2ZM63.1 386.6L65.2 388.7L67.2 386.6L65.2 384.6ZM65.2 388.0L63.7 386.6L65.2 385.2L66.6 386.6Z"/>
<path fill="#cc0000" stroke="#cc0000" stroke-width="0.4" d="M50.8 487.5L52.3 488.9L53.7 487.5L52.3 486.1ZM52.3 488.3L51.5 487.5L52.3 486.7L53.1 487.5ZM63.7 500.1L64.4 500.1L65.2 499.3L66.0 500.1L66.6 500.1L65.2 498.7ZM102.4 487.5L103.8 488.9L105.2 487.5L103.8 486.1ZM103.8 488.3L103.0 487.5L103.8 486.7L104.6 487.5ZM116.5 500.1L116.7 500.1L129.6 500.1L134.5 500.1L141.6 487.5L142.4 486.7L143.2 487.5L143.2 500.1L143.9 500.1L143.9 487.5L142.4 486.1L141.0 487.5L129.6 499.9L116.7 499.9ZM166.8 487.5L168.2 488.9L168.2 488.3L167.4 487.5L168.2 486.7L168.2 486.1ZM76.6 462.3L78.0 463.7L79.5 462.3L78.0 460.9ZM78.0 463.1L77.2 462.3L78.0 461.5L78.8 462.3ZM102.4 437.1L103.8 438.5L105.2 437.1L103.8 435.6ZM103.8 437.8L103.0 437.1L103.8 436.3L104.6 437.1ZM153.9 437.1L155.3 438.5L156.8 437.1L155.3 435.6ZM155.3 437.8L154.5 437.1L155.3 436.3L156.1 437.1ZM39.4 425.2L39.4 425.9L40.8 424.4L39.4 423.0L39.4 423.7L40.2 424.4ZM153.9 399.2L155.3 400.6L156.8 399.2L155.3 397.8ZM155.3 400.0L154.5 399.2L155.3 398.4L156.1 399.2ZM63.7 386.6L65.2 388.0L66.6 386.6L65.2 385.2ZM65.2 387.4L64.4 386.6L65.2 385.8L66.0 386.6Z"/>
<path fill="#990000" stroke="#990000" stroke-width="0.4" d="M51.5 487.5L52.3 488.3L53.1 487.5L52.3 486.7ZM64.4 500.1L65.2 500.1L66.0 500.1L65.2 499.3ZM103.0 487.5L103.8 488.3L104.6 487.5L103.8 486.7ZM134.5 500.1L142.4 500.1L143.2 500.1L143.2 487.5L142.4 486.7L141.6 487.5ZM167.4 487.5L168.2 488.3L168.2 487.5L168.2 486.7ZM77.2 462.3L78.0 463.1L78.8 462.3L78.0 461.5ZM103.0 437.1L103.8 437.8L104.6 437.1L103.8 436.3ZM154.5 437.1L155.3 437.8L156.1 437.1L155.3 436.3ZM39.4 424.4L39.4 425.2L40.2 424.4L39.4 423.7ZM154.5 399.2L155.3 400.0L156.1 399.2L155.3 398.4ZM64.4 386.6L65.2 387.4L66.0 386.6L65.2 385.8Z"/>
</g>
<rect x="167.3" y="373.0" width="2.4" height="128.1" fill="#fff"/>
<rect x="169.8" y="374.70" width="6.5" height="6.57" fill="#990000"/>
<rect x="169.8" y="380.97" width="6.5" height="6.57" fill="#cc0000"/>
<rect x="169.8" y="387.24" width="6.5" height="6.57" fill="#ff0000"/>
<rect x="169.8" y="393.51" width="6.5" height="6.57" fill="#ff3300"/>
<rect x="169.8" y="399.78" width="6.5" height="6.57" fill="#ff6600"/>
<rect x="169.8" y="406.05" width="6.5" height="6.57" fill="#ff9900"/>
<rect x="169.8" y="412.32" width="6.5" height="6.57" fill="#ffcc00"/>
<rect x="169.8" y="418.59" width="6.5" height="6.57" fill="#ffff00"/>
<rect x="169.8" y="424.86" width="6.5" height="6.57" fill="#ccff33"/>
<rect x="169.8" y="431.13" width="6.5" height="6.57" fill="#99ff66"/>
<rect x="169.8" y="437.40" width="6.5" height="6.57" fill="#66ff99"/>
<rect x="169.8" y="443.67" width="6.5" height="6.57" fill="#33ffcc"/>
<rect x="169.8" y="449.94" width="6.5" height="6.57" fill="#00ffff"/>
<rect x="169.8" y="456.21" width="6.5" height="6.57" fill="#00ccff"/>
<rect x="169.8" y="462.48" width="6.5" height="6.57" fill="#0099ff"/>
<rect x="169.8" y="468.75" width="6.5" height="6.57" fill="#0066ff"/>
<rect x="169.8" y="475.02" width="6.5" height="6.57" fill="#0033ff"/>
<rect x="169.8" y="481.29" width="6.5" height="6.57" fill="#0000ff"/>
<rect x="169.8" y="487.56" width="6.5" height="6.57" fill="#0000cc"/>
<rect x="169.8" y="493.83" width="6.5" height="6.27" fill="#000099"/>
<g>
<rect x="272.1" y="375.2" width="121.3" height="120.7" fill="#000099"/>
<path fill="#000099" stroke="#000099" stroke-width="0.4" d="M272.1 495.9L284.2 495.9L296.4 495.9L308.5 495.9L320.6 495.9L332.8 495.9L344.9 495.9L357.0 495.9L369.1 495.9L381.3 495.9L393.4 495.9L393.4 483.8L393.4 471.8L393.4 459.7L393.4 447.6L393.4 435.5L393.4 423.5L393.4 411.4L393.4 399.3L393.4 387.3L393.4 375.2L381.3 375.2L369.1 375.2L357.0 375.2L344.9 375.2L332.8 375.2L320.6 375.2L308.5 375.2L296.4 375.2L284.2 375.2L272.1 375.2L272.1 387.3L272.1 399.3L272.1 411.4L272.1 423.5L272.1 435.5L272.1 447.6L272.1 459.7L272.1 471.8L272.1 483.8ZM308.5 423.0L296.8 411.4L308.5 399.8L320.2 411.4ZM381.3 423.0L369.6 411.4L381.3 399.8L392.9 411.4Z"/>
<path fill="#000099" stroke="#000099" stroke-width="0.4" d="M296.8 411.4L308.5 423.0L320.2 411.4L308.5 399.8ZM308.5 422.4L297.4 411.4L308.5 400.4L319.6 411.4ZM369.6 411.4L381.3 423.0L392.9 411.4L381.3 399.8ZM381.3 422.4L370.2 411.4L381.3 400.4L392.3 411.4Z"/>
<path fill="#0000c7" stroke="#0000c7" stroke-width="0.4" d="M297.4 411.4L308.5 422.4L319.6 411.4L308.5 400.4ZM308.5 421.8L298.0 411.4L308.5 401.0L318.9 411.4ZM370.2 411.4L381.3 422.4L392.3 411.4L381.3 400.4ZM381.3 421.8L370.8 411.4L381.3 401.0L391.7 411.4Z"/>
<path fill="#0033ff" stroke="#0033ff" stroke-width="0.4" d="M298.0 411.4L308.5 421.8L318.9 411.4L308.5 401.0ZM308.5 421.2L298.6 411.4L308.5 401.6L318.3 411.4ZM370.8 411.4L381.3 421.8L391.7 411.4L381.3 401.0ZM381.3 421.2L371.4 411.4L381.3 401.6L391.1 411.4Z"/>
<path fill="#0066ff" stroke="#0066ff" stroke-width="0.4" d="M298.6 411.4L308.5 421.2L318.3 411.4L308.5 401.6ZM308.5 420.6L299.2 411.4L308.5 402.2L317.7 411.4ZM371.4 411.4L381.3 421.2L391.1 411.4L381.3 401.6ZM381.3 420.6L372.0 411.4L381.3 402.2L390.5 411.4Z"/>
<path fill="#0099ff" stroke="#0099ff" stroke-width="0.4" d="M299.2 411.4L308.5 420.6L317.7 411.4L308.5 402.2ZM308.5 420.0L299.9 411.4L308.5 402.8L317.1 411.4ZM372.0 411.4L381.3 420.6L390.5 411.4L381.3 402.2ZM381.3 420.0L372.6 411.4L381.3 402.8L389.9 411.4Z"/>
<path fill="#00ccff" stroke="#00ccff" stroke-width="0.4" d="M299.9 411.4L308.5 420.0L317.1 411.4L308.5 402.8ZM308.5 419.4L300.5 411.4L308.5 403.4L316.5 411.4ZM372.6 411.4L381.3 420.0L389.9 411.4L381.3 402.8ZM381.3 419.4L373.2 411.4L381.3 403.4L389.3 411.4Z"/>
<path fill="#00ffff" stroke="#00ffff" stroke-width="0.4" d="M300.5 411.4L308.5 419.4L316.5 411.4L308.5 403.4ZM308.5 418.8L301.1 411.4L308.5 404.0L315.9 411.4ZM373.2 411.4L381.3 419.4L389.3 411.4L381.3 403.4ZM381.3 418.8L373.8 411.4L381.3 404.0L388.7 411.4Z"/>
<path fill="#33ffcc" stroke="#33ffcc" stroke-width="0.4" d="M301.1 411.4L308.5 418.8L315.9 411.4L308.5 404.0ZM308.5 418.2L301.7 411.4L308.5 404.6L315.3 411.4ZM373.8 411.4L381.3 418.8L388.7 411.4L381.3 404.0ZM381.3 418.2L374.5 411.4L381.3 404.6L388.1 411.4Z"/>
<path fill="#66ff99" stroke="#66ff99" stroke-width="0.4" d="M301.7 411.4L308.5 418.2L315.3 411.4L308.5 404.6ZM308.5 417.6L302.3 411.4L308.5 405.2L314.7 411.4ZM374.5 411.4L381.3 418.2L388.1 411.4L381.3 404.6ZM381.3 417.6L375.1 411.4L381.3 405.2L387.5 411.4Z"/>
<path fill="#99ff66" stroke="#99ff66" stroke-width="0.4" d="M302.3 411.4L308.5 417.6L314.7 411.4L308.5 405.2ZM308.5 417.0L302.9 411.4L308.5 405.8L314.1 411.4ZM375.1 411.4L381.3 417.6L387.5 411.4L381.3 405.2ZM381.3 417.0L375.7 411.4L381.3 405.8L386.9 411.4Z"/>
<path fill="#ccff33" stroke="#ccff33" stroke-width="0.4" d="M302.9 411.4L308.5 417.0L314.1 411.4L308.5 405.8ZM308.5 416.4L303.5 411.4L308.5 406.4L313.5 411.4ZM375.7 411.4L381.3 417.0L386.9 411.4L381.3 405.8ZM381.3 416.4L376.3 411.4L381.3 406.4L386.3 411.4Z"/>
<path fill="#ffff00" stroke="#ffff00" stroke-width="0.4" d="M303.5 411.4L308.5 416.4L313.5 411.4L308.5 406.4ZM308.5 415.8L304.1 411.4L308.5 407.0L312.9 411.4ZM376.3 411.4L381.3 416.4L386.3 411.4L381.3 406.4ZM381.3 415.8L376.9 411.4L381.3 407.0L385.7 411.4Z"/>
<path fill="#ffcc00" stroke="#ffcc00" stroke-width="0.4" d="M304.1 411.4L308.5 415.8L312.9 411.4L308.5 407.0ZM308.5 415.2L304.7 411.4L308.5 407.6L312.3 411.4ZM376.9 411.4L381.3 415.8L385.7 411.4L381.3 407.0ZM381.3 415.2L377.5 411.4L381.3 407.6L385.1 411.4Z"/>
<path fill="#ff9900" stroke="#ff9900" stroke-width="0.4" d="M304.7 411.4L308.5 415.2L312.3 411.4L308.5 407.6ZM308.5 414.6L305.3 411.4L308.5 408.2L311.7 411.4ZM377.5 411.4L381.3 415.2L385.1 411.4L381.3 407.6ZM381.3 414.6L378.1 411.4L381.3 408.2L384.4 411.4Z"/>
<path fill="#ff6600" stroke="#ff6600" stroke-width="0.4" d="M305.3 411.4L308.5 414.6L311.7 411.4L308.5 408.2ZM308.5 414.0L305.9 411.4L308.5 408.9L311.1 411.4ZM378.1 411.4L381.3 414.6L384.4 411.4L381.3 408.2ZM381.3 414.0L378.7 411.4L381.3 408.9L383.8 411.4Z"/>
<path fill="#ff3300" stroke="#ff3300" stroke-width="0.4" d="M305.9 411.4L308.5 414.0L311.1 411.4L308.5 408.9ZM308.5 413.4L306.5 411.4L308.5 409.5L310.5 411.4ZM378.7 411.4L381.3 414.0L383.8 411.4L381.3 408.9ZM381.3 413.4L379.3 411.4L381.3 409.5L383.2 411.4Z"/>
<path fill="#ff0000" stroke="#ff0000" stroke-width="0.4" d="M306.5 411.4L308.5 413.4L310.5 411.4L308.5 409.5ZM308.5 412.8L307.1 411.4L308.5 410.1L309.8 411.4ZM379.3 411.4L381.3 413.4L383.2 411.4L381.3 409.5ZM381.3 412.8L379.9 411.4L381.3 410.1L382.6 411.4Z"/>
<path fill="#cc0000" stroke="#cc0000" stroke-width="0.4" d="M307.1 411.4L308.5 412.8L309.8 411.4L308.5 410.1ZM308.5 412.2L307.7 411.4L308.5 410.7L309.2 411.4ZM379.9 411.4L381.3 412.8L382.6 411.4L381.3 410.1ZM381.3 412.2L380.5 411.4L381.3 410.7L382.0 411.4Z"/>
<path fill="#990000" stroke="#990000" stroke-width="0.4" d="M307.7 411.4L308.5 412.2L309.2 411.4L308.5 410.7ZM380.5 411.4L381.3 412.2L382.0 411.4L381.3 410.7Z"/>
</g>
<rect x="396.2" y="375.20" width="7.2" height="6.33" fill="#990000"/>
<rect x="396.2" y="381.24" width="7.2" height="6.33" fill="#cc0000"/>
<rect x="396.2" y="387.27" width="7.2" height="6.33" fill="#ff0000"/>
<rect x="396.2" y="393.31" width="7.2" height="6.33" fill="#ff3300"/>
<rect x="396.2" y="399.34" width="7.2" height="6.33" fill="#ff6600"/>
<rect x="396.2" y="405.38" width="7.2" height="6.33" fill="#ff9900"/>
<rect x="396.2" y="411.41" width="7.2" height="6.33" fill="#ffcc00"/>
<rect x="396.2" y="417.44" width="7.2" height="6.33" fill="#ffff00"/>
<rect x="396.2" y="423.48" width="7.2" height="6.33" fill="#ccff33"/>
<rect x="396.2" y="429.51" width="7.2" height="6.33" fill="#99ff66"/>
<rect x="396.2" y="435.55" width="7.2" height="6.33" fill="#66ff99"/>
<rect x="396.2" y="441.58" width="7.2" height="6.33" fill="#33ffcc"/>
<rect x="396.2" y="447.62" width="7.2" height="6.33" fill="#00ffff"/>
<rect x="396.2" y="453.65" width="7.2" height="6.33" fill="#00ccff"/>
<rect x="396.2" y="459.69" width="7.2" height="6.33" fill="#0099ff"/>
<rect x="396.2" y="465.72" width="7.2" height="6.33" fill="#0066ff"/>
<rect x="396.2" y="471.76" width="7.2" height="6.33" fill="#0033ff"/>
<rect x="396.2" y="477.79" width="7.2" height="6.33" fill="#0000ff"/>
<rect x="396.2" y="483.83" width="7.2" height="6.33" fill="#0000cc"/>
<rect x="396.2" y="489.87" width="7.2" height="6.03" fill="#000099"/>
<text x="28.6" y="23.5" class="tk" text-anchor="start">10</text>
<text x="28.6" y="47.2" class="tk" text-anchor="start">8</text>
<text x="28.6" y="71.2" class="tk" text-anchor="start">6</text>
<text x="28.6" y="94.9" class="tk" text-anchor="start">4</text>
<text x="28.6" y="118.9" class="tk" text-anchor="start">2</text>
<text x="264.5" y="19.9" class="tk" text-anchor="start">10</text>
<text x="264.5" y="43.1" class="tk" text-anchor="start">8</text>
<text x="264.5" y="66.5" class="tk" text-anchor="start">6</text>
<text x="264.5" y="90.3" class="tk" text-anchor="start">4</text>
<text x="264.5" y="114.0" class="tk" text-anchor="start">2</text>
<text x="28.6" y="204.8" class="tk" text-anchor="start">10</text>
<text x="28.6" y="228.0" class="tk" text-anchor="start">8</text>
<text x="28.6" y="252.0" class="tk" text-anchor="start">6</text>
<text x="28.6" y="275.7" class="tk" text-anchor="start">4</text>
<text x="28.6" y="299.7" class="tk" text-anchor="start">2</text>
<text x="259.9" y="204.8" class="tk" text-anchor="start">10</text>
<text x="259.9" y="228.4" class="tk" text-anchor="start">8</text>
<text x="259.9" y="252.1" class="tk" text-anchor="start">6</text>
<text x="259.9" y="275.6" class="tk" text-anchor="start">4</text>
<text x="259.9" y="299.3" class="tk" text-anchor="start">2</text>
<text x="27.3" y="389.3" class="tk" text-anchor="start">10</text>
<text x="27.3" y="413.0" class="tk" text-anchor="start">8</text>
<text x="27.3" y="437.0" class="tk" text-anchor="start">6</text>
<text x="27.3" y="460.7" class="tk" text-anchor="start">4</text>
<text x="27.3" y="485.3" class="tk" text-anchor="start">2</text>
<text x="260.5" y="389.3" class="tk" text-anchor="start">10</text>
<text x="260.5" y="412.5" class="tk" text-anchor="start">8</text>
<text x="260.5" y="435.6" class="tk" text-anchor="start">6</text>
<text x="260.5" y="458.5" class="tk" text-anchor="start">4</text>
<text x="260.5" y="482.0" class="tk" text-anchor="start">2</text>
<text x="52.7" y="144.3" class="tk" text-anchor="middle">2</text>
<text x="78.1" y="144.3" class="tk" text-anchor="middle">4</text>
<text x="103.2" y="144.3" class="tk" text-anchor="middle">6</text>
<text x="128.7" y="144.3" class="tk" text-anchor="middle">8</text>
<text x="153.8" y="144.3" class="tk" text-anchor="middle">10</text>
<text x="289.9" y="140.2" class="tk" text-anchor="middle">2</text>
<text x="316.0" y="140.2" class="tk" text-anchor="middle">4</text>
<text x="342.5" y="140.2" class="tk" text-anchor="middle">6</text>
<text x="369.0" y="140.2" class="tk" text-anchor="middle">8</text>
<text x="395.6" y="140.2" class="tk" text-anchor="middle">10</text>
<text x="52.7" y="326.3" class="tk" text-anchor="middle">2</text>
<text x="78.1" y="326.3" class="tk" text-anchor="middle">4</text>
<text x="103.6" y="326.3" class="tk" text-anchor="middle">6</text>
<text x="129.0" y="326.3" class="tk" text-anchor="middle">8</text>
<text x="154.5" y="326.3" class="tk" text-anchor="middle">10</text>
<text x="283.0" y="325.2" class="tk" text-anchor="middle">2</text>
<text x="308.5" y="325.2" class="tk" text-anchor="middle">4</text>
<text x="334.0" y="325.2" class="tk" text-anchor="middle">6</text>
<text x="359.0" y="325.2" class="tk" text-anchor="middle">8</text>
<text x="384.5" y="325.2" class="tk" text-anchor="middle">10</text>
<text x="51.6" y="511.1" class="tk" text-anchor="middle">2</text>
<text x="77.8" y="511.1" class="tk" text-anchor="middle">4</text>
<text x="103.2" y="511.1" class="tk" text-anchor="middle">6</text>
<text x="129.0" y="511.1" class="tk" text-anchor="middle">8</text>
<text x="155.6" y="511.1" class="tk" text-anchor="middle">10</text>
<text x="283.4" y="507.6" class="tk" text-anchor="middle">2</text>
<text x="308.5" y="507.6" class="tk" text-anchor="middle">4</text>
<text x="333.2" y="507.6" class="tk" text-anchor="middle">6</text>
<text x="358.0" y="507.6" class="tk" text-anchor="middle">8</text>
<text x="382.0" y="507.6" class="tk" text-anchor="middle">10</text>
<text x="182.0" y="14.5" class="cb" text-anchor="start" textLength="4.6" lengthAdjust="spacingAndGlyphs">1</text>
<text x="182.0" y="38.3" class="cb" text-anchor="start" textLength="11.9" lengthAdjust="spacingAndGlyphs">0.8</text>
<text x="182.0" y="62.3" class="cb" text-anchor="start" textLength="11.9" lengthAdjust="spacingAndGlyphs">0.6</text>
<text x="182.0" y="86.0" class="cb" text-anchor="start" textLength="11.9" lengthAdjust="spacingAndGlyphs">0.4</text>
<text x="182.0" y="109.6" class="cb" text-anchor="start" textLength="11.9" lengthAdjust="spacingAndGlyphs">0.2</text>
<text x="182.0" y="132.6" class="cb" text-anchor="start" textLength="4.6" lengthAdjust="spacingAndGlyphs">0</text>
<text x="182.5" y="195.3" class="cb" text-anchor="start" textLength="4.6" lengthAdjust="spacingAndGlyphs">1</text>
<text x="182.5" y="219.6" class="cb" text-anchor="start" textLength="11.9" lengthAdjust="spacingAndGlyphs">0.8</text>
<text x="182.5" y="243.6" class="cb" text-anchor="start" textLength="11.9" lengthAdjust="spacingAndGlyphs">0.6</text>
<text x="182.5" y="267.4" class="cb" text-anchor="start" textLength="11.9" lengthAdjust="spacingAndGlyphs">0.4</text>
<text x="182.5" y="290.9" class="cb" text-anchor="start" textLength="11.9" lengthAdjust="spacingAndGlyphs">0.2</text>
<text x="182.5" y="313.9" class="cb" text-anchor="start" textLength="4.6" lengthAdjust="spacingAndGlyphs">0</text>
<text x="411.5" y="195.3" class="cb" text-anchor="start" textLength="4.6" lengthAdjust="spacingAndGlyphs">1</text>
<text x="411.5" y="219.6" class="cb" text-anchor="start" textLength="11.9" lengthAdjust="spacingAndGlyphs">0.8</text>
<text x="411.5" y="243.1" class="cb" text-anchor="start" textLength="11.9" lengthAdjust="spacingAndGlyphs">0.6</text>
<text x="411.5" y="266.9" class="cb" text-anchor="start" textLength="11.9" lengthAdjust="spacingAndGlyphs">0.4</text>
<text x="411.5" y="290.1" class="cb" text-anchor="start" textLength="11.9" lengthAdjust="spacingAndGlyphs">0.2</text>
<text x="411.5" y="313.2" class="cb" text-anchor="start" textLength="4.6" lengthAdjust="spacingAndGlyphs">0</text>
<text x="182.5" y="380.0" class="cb" text-anchor="start" textLength="4.6" lengthAdjust="spacingAndGlyphs">1</text>
<text x="182.5" y="404.6" class="cb" text-anchor="start" textLength="11.9" lengthAdjust="spacingAndGlyphs">0.8</text>
<text x="182.5" y="428.6" class="cb" text-anchor="start" textLength="11.9" lengthAdjust="spacingAndGlyphs">0.6</text>
<text x="182.5" y="452.4" class="cb" text-anchor="start" textLength="11.9" lengthAdjust="spacingAndGlyphs">0.4</text>
<text x="182.5" y="476.4" class="cb" text-anchor="start" textLength="11.9" lengthAdjust="spacingAndGlyphs">0.2</text>
<text x="182.5" y="499.7" class="cb" text-anchor="start" textLength="4.6" lengthAdjust="spacingAndGlyphs">0</text>
<text x="409.0" y="380.3" class="cb" text-anchor="start" textLength="4.6" lengthAdjust="spacingAndGlyphs">1</text>
<text x="409.0" y="404.3" class="cb" text-anchor="start" textLength="11.9" lengthAdjust="spacingAndGlyphs">0.8</text>
<text x="409.0" y="426.8" class="cb" text-anchor="start" textLength="11.9" lengthAdjust="spacingAndGlyphs">0.6</text>
<text x="409.0" y="450.4" class="cb" text-anchor="start" textLength="11.9" lengthAdjust="spacingAndGlyphs">0.4</text>
<text x="409.0" y="473.3" class="cb" text-anchor="start" textLength="11.9" lengthAdjust="spacingAndGlyphs">0.2</text>
<text x="409.0" y="495.9" class="cb" text-anchor="start" textLength="4.6" lengthAdjust="spacingAndGlyphs">0</text>
<text x="414.0" y="19.0" class="cb" text-anchor="start" textLength="4.6" lengthAdjust="spacingAndGlyphs">1</text>
<text x="414.0" y="29.5" class="cb" text-anchor="start" textLength="11.9" lengthAdjust="spacingAndGlyphs">0.9</text>
<text x="414.0" y="40.4" class="cb" text-anchor="start" textLength="11.9" lengthAdjust="spacingAndGlyphs">0.8</text>
<text x="414.0" y="51.4" class="cb" text-anchor="start" textLength="11.9" lengthAdjust="spacingAndGlyphs">0.7</text>
<text x="414.0" y="62.3" class="cb" text-anchor="start" textLength="11.9" lengthAdjust="spacingAndGlyphs">0.6</text>
<text x="414.0" y="73.0" class="cb" text-anchor="start" textLength="11.9" lengthAdjust="spacingAndGlyphs">0.5</text>
<text x="414.0" y="84.2" class="cb" text-anchor="start" textLength="11.9" lengthAdjust="spacingAndGlyphs">0.4</text>
<text x="414.0" y="94.6" class="cb" text-anchor="start" textLength="11.9" lengthAdjust="spacingAndGlyphs">0.3</text>
<text x="414.0" y="105.4" class="cb" text-anchor="start" textLength="11.9" lengthAdjust="spacingAndGlyphs">0.2</text>
<text x="414.0" y="116.6" class="cb" text-anchor="start" textLength="11.9" lengthAdjust="spacingAndGlyphs">0.1</text>
<text y="159.4" class="ax" style="font-size:13.40px"><tspan x="42.9" textLength="30.4" lengthAdjust="spacingAndGlyphs">Local</tspan> <tspan x="77.4" textLength="62.8" lengthAdjust="spacingAndGlyphs">coordinate</tspan> <tspan x="144.9" textLength="17.4" lengthAdjust="spacingAndGlyphs">(ft)</tspan></text>
<text y="154.0" class="ax" style="font-size:14.04px"><tspan x="278.7" textLength="31.9" lengthAdjust="spacingAndGlyphs">Local</tspan> <tspan x="314.8" textLength="65.8" lengthAdjust="spacingAndGlyphs">coordinate</tspan> <tspan x="385.6" textLength="18.2" lengthAdjust="spacingAndGlyphs">(ft)</tspan></text>
<text y="339.6" class="ax" style="font-size:13.40px"><tspan x="42.9" textLength="30.4" lengthAdjust="spacingAndGlyphs">Local</tspan> <tspan x="77.4" textLength="62.8" lengthAdjust="spacingAndGlyphs">coordinate</tspan> <tspan x="144.9" textLength="17.4" lengthAdjust="spacingAndGlyphs">(ft)</tspan></text>
<text y="338.9" class="ax" style="font-size:13.30px"><tspan x="274.0" textLength="30.2" lengthAdjust="spacingAndGlyphs">Local</tspan> <tspan x="308.2" textLength="62.3" lengthAdjust="spacingAndGlyphs">coordinate</tspan> <tspan x="375.2" textLength="17.3" lengthAdjust="spacingAndGlyphs">(ft)</tspan></text>
<text y="525.9" class="ax" style="font-size:13.66px"><tspan x="41.5" textLength="31.0" lengthAdjust="spacingAndGlyphs">Local</tspan> <tspan x="76.7" textLength="64.0" lengthAdjust="spacingAndGlyphs">coordinate</tspan> <tspan x="145.5" textLength="17.7" lengthAdjust="spacingAndGlyphs">(ft)</tspan></text>
<text y="520.7" class="ax" style="font-size:13.11px"><tspan x="274.0" textLength="29.7" lengthAdjust="spacingAndGlyphs">Local</tspan> <tspan x="307.7" textLength="61.4" lengthAdjust="spacingAndGlyphs">coordinate</tspan> <tspan x="373.8" textLength="17.0" lengthAdjust="spacingAndGlyphs">(ft)</tspan></text>
<text transform="translate(18.0 136.4) rotate(-90)" y="0" class="ax" style="font-size:13.47px"><tspan x="0.0" textLength="30.6" lengthAdjust="spacingAndGlyphs">Local</tspan> <tspan x="34.7" textLength="63.1" lengthAdjust="spacingAndGlyphs">coordinate</tspan> <tspan x="102.5" textLength="17.5" lengthAdjust="spacingAndGlyphs">(ft)</tspan></text>
<text transform="translate(252.0 132.3) rotate(-90)" y="0" class="ax" style="font-size:13.47px"><tspan x="0.0" textLength="30.6" lengthAdjust="spacingAndGlyphs">Local</tspan> <tspan x="34.7" textLength="63.1" lengthAdjust="spacingAndGlyphs">coordinate</tspan> <tspan x="102.5" textLength="17.5" lengthAdjust="spacingAndGlyphs">(ft)</tspan></text>
<text transform="translate(18.0 317.2) rotate(-90)" y="0" class="ax" style="font-size:13.50px"><tspan x="0.0" textLength="30.6" lengthAdjust="spacingAndGlyphs">Local</tspan> <tspan x="34.8" textLength="63.3" lengthAdjust="spacingAndGlyphs">coordinate</tspan> <tspan x="102.8" textLength="17.5" lengthAdjust="spacingAndGlyphs">(ft)</tspan></text>
<text transform="translate(248.0 316.4) rotate(-90)" y="0" class="ax" style="font-size:13.32px"><tspan x="0.0" textLength="30.2" lengthAdjust="spacingAndGlyphs">Local</tspan> <tspan x="34.3" textLength="62.4" lengthAdjust="spacingAndGlyphs">coordinate</tspan> <tspan x="101.4" textLength="17.3" lengthAdjust="spacingAndGlyphs">(ft)</tspan></text>
<text transform="translate(15.9 504.0) rotate(-90)" y="0" class="ax" style="font-size:13.61px"><tspan x="0.0" textLength="30.9" lengthAdjust="spacingAndGlyphs">Local</tspan> <tspan x="35.0" textLength="63.8" lengthAdjust="spacingAndGlyphs">coordinate</tspan> <tspan x="103.6" textLength="17.7" lengthAdjust="spacingAndGlyphs">(ft)</tspan></text>
<text transform="translate(249.4 499.4) rotate(-90)" y="0" class="ax" style="font-size:13.10px"><tspan x="0.0" textLength="29.7" lengthAdjust="spacingAndGlyphs">Local</tspan> <tspan x="33.7" textLength="61.4" lengthAdjust="spacingAndGlyphs">coordinate</tspan> <tspan x="99.7" textLength="17.0" lengthAdjust="spacingAndGlyphs">(ft)</tspan></text>
<text x="100.5" y="176.3" class="cap" text-anchor="middle">(a)</text>
<text x="330.3" y="176.0" class="cap" text-anchor="middle">(b)</text>
<text x="100.5" y="362.8" class="cap" text-anchor="middle">(c)</text>
<text x="330.8" y="362.4" class="cap" text-anchor="middle">(d)</text>
<text x="100.5" y="545.9" class="cap" text-anchor="middle">(e)</text>
<text x="330.8" y="545.9" class="cap" text-anchor="middle">(f)</text>
</svg>
</body></html>
